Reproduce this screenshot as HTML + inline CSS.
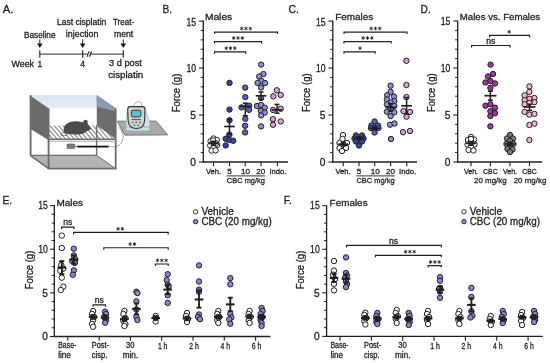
<!DOCTYPE html><html><head><meta charset="utf-8"><style>html,body{margin:0;padding:0;background:#fff;width:550px;height:363px;overflow:hidden}svg{display:block}#wrap{filter:blur(0.35px);width:550px;height:363px}text{font-family:"Liberation Sans",sans-serif;stroke:#231f20;stroke-width:0.3px}</style></head><body>
<div id="wrap"><svg width="550" height="363" viewBox="0 0 550 363">
<rect width="550" height="363" fill="#fff"/>
<text x="2.8" y="13.2" font-size="10.6" text-anchor="start" fill="#231f20" textLength="10.6" lengthAdjust="spacingAndGlyphs">A.</text>
<line x1="39.8" y1="54.1" x2="123.3" y2="54.1" stroke="#555" stroke-width="1.2"/>
<line x1="39.8" y1="50.3" x2="39.8" y2="57.8" stroke="#231f20" stroke-width="1.1"/>
<line x1="82.7" y1="50.3" x2="82.7" y2="57.8" stroke="#231f20" stroke-width="1.1"/>
<line x1="123.3" y1="50.3" x2="123.3" y2="57.8" stroke="#231f20" stroke-width="1.1"/>
<path d="M87.2,56.6 L89.0,51.6 M89.6,56.6 L91.4,51.6" stroke="#231f20" stroke-width="0.9" fill="none"/>
<rect x="87.8" y="53.2" width="2.6" height="1.8" fill="#fff"/>
<path d="M87.2,56.6 L89.0,51.6 M89.6,56.6 L91.4,51.6" stroke="#231f20" stroke-width="0.9" fill="none"/>
<line x1="39.8" y1="39.4" x2="39.8" y2="44.5" stroke="#231f20" stroke-width="1.0"/>
<path d="M36.9,43.4 L42.699999999999996,43.4 L39.8,47.9 Z" fill="#231f20"/>
<line x1="82.7" y1="39.4" x2="82.7" y2="44.5" stroke="#231f20" stroke-width="1.0"/>
<path d="M79.8,43.4 L85.60000000000001,43.4 L82.7,47.9 Z" fill="#231f20"/>
<line x1="123.3" y1="39.4" x2="123.3" y2="44.5" stroke="#231f20" stroke-width="1.0"/>
<path d="M120.39999999999999,43.4 L126.2,43.4 L123.3,47.9 Z" fill="#231f20"/>
<text x="24.0" y="37.6" font-size="8.6" text-anchor="start" fill="#231f20" textLength="31.5" lengthAdjust="spacingAndGlyphs">Baseline</text>
<text x="56.9" y="25.3" font-size="8.6" text-anchor="start" fill="#231f20" textLength="49.4" lengthAdjust="spacingAndGlyphs">Last cisplatin</text>
<text x="65.8" y="36.6" font-size="8.6" text-anchor="start" fill="#231f20" textLength="32.7" lengthAdjust="spacingAndGlyphs">injection</text>
<text x="113.0" y="25.3" font-size="8.6" text-anchor="start" fill="#231f20" textLength="21.2" lengthAdjust="spacingAndGlyphs">Treat-</text>
<text x="114.0" y="36.6" font-size="8.6" text-anchor="start" fill="#231f20" textLength="19.2" lengthAdjust="spacingAndGlyphs">ment</text>
<text x="11.6" y="66.7" font-size="8.6" text-anchor="start" fill="#231f20" textLength="22.4" lengthAdjust="spacingAndGlyphs">Week</text>
<text x="37.6" y="66.7" font-size="8.6" text-anchor="start" fill="#231f20">1</text>
<text x="80.2" y="66.7" font-size="8.6" text-anchor="start" fill="#231f20">4</text>
<text x="109.0" y="66.0" font-size="8.6" text-anchor="start" fill="#231f20" textLength="32.9" lengthAdjust="spacingAndGlyphs">3 d post</text>
<text x="108.2" y="77.5" font-size="8.6" text-anchor="start" fill="#231f20" textLength="35.0" lengthAdjust="spacingAndGlyphs">cisplatin</text>
<defs><linearGradient id="lb" x1="0" y1="0" x2="0" y2="1"><stop offset="0" stop-color="#d6e4f1"/><stop offset="1" stop-color="#e6eef7"/></linearGradient><linearGradient id="rp" x1="0" y1="0" x2="0" y2="1"><stop offset="0" stop-color="#8497a6"/><stop offset="0.3" stop-color="#8497a6"/><stop offset="0.31" stop-color="#6c6c6c"/><stop offset="1" stop-color="#6c6c6c"/></linearGradient><clipPath id="gclip"><polygon points="48.6,125.4 101,125.4 115.7,139 48.6,139"/></clipPath><clipPath id="devclip"><path d="M129.5,106.8 L142.5,106.8 Q144.2,106.8 144.2,109 L143.6,124 Q143.2,128.6 138,128.6 L134,128.6 Q128.8,128.6 128.4,124 L127.8,109 Q127.8,106.8 129.5,106.8 Z"/></clipPath></defs>
<polygon points="30.6,95.2 96.8,95.2 115.7,108.3 48.6,108.3" fill="url(#lb)"/>
<polygon points="30.6,155.4 96.4,155.4 115.7,168.6 48.6,168.6" fill="#b4b4b4"/>
<g clip-path="url(#gclip)"><rect x="48" y="124" width="70" height="16" fill="#ffffff"/><line x1="14.20" y1="124" x2="27.70" y2="140" stroke="#939393" stroke-width="1.25"/><line x1="18.50" y1="124" x2="32.00" y2="140" stroke="#939393" stroke-width="1.25"/><line x1="22.80" y1="124" x2="36.30" y2="140" stroke="#939393" stroke-width="1.25"/><line x1="27.10" y1="124" x2="40.60" y2="140" stroke="#939393" stroke-width="1.25"/><line x1="31.40" y1="124" x2="44.90" y2="140" stroke="#939393" stroke-width="1.25"/><line x1="35.70" y1="124" x2="49.20" y2="140" stroke="#939393" stroke-width="1.25"/><line x1="40.00" y1="124" x2="53.50" y2="140" stroke="#939393" stroke-width="1.25"/><line x1="44.30" y1="124" x2="57.80" y2="140" stroke="#939393" stroke-width="1.25"/><line x1="48.60" y1="124" x2="62.10" y2="140" stroke="#939393" stroke-width="1.25"/><line x1="52.90" y1="124" x2="66.40" y2="140" stroke="#939393" stroke-width="1.25"/><line x1="57.20" y1="124" x2="70.70" y2="140" stroke="#939393" stroke-width="1.25"/><line x1="61.50" y1="124" x2="75.00" y2="140" stroke="#939393" stroke-width="1.25"/><line x1="65.80" y1="124" x2="79.30" y2="140" stroke="#939393" stroke-width="1.25"/><line x1="70.10" y1="124" x2="83.60" y2="140" stroke="#939393" stroke-width="1.25"/><line x1="74.40" y1="124" x2="87.90" y2="140" stroke="#939393" stroke-width="1.25"/><line x1="78.70" y1="124" x2="92.20" y2="140" stroke="#939393" stroke-width="1.25"/><line x1="83.00" y1="124" x2="96.50" y2="140" stroke="#939393" stroke-width="1.25"/><line x1="87.30" y1="124" x2="100.80" y2="140" stroke="#939393" stroke-width="1.25"/><line x1="91.60" y1="124" x2="105.10" y2="140" stroke="#939393" stroke-width="1.25"/><line x1="95.90" y1="124" x2="109.40" y2="140" stroke="#939393" stroke-width="1.25"/><line x1="100.20" y1="124" x2="113.70" y2="140" stroke="#939393" stroke-width="1.25"/><line x1="104.50" y1="124" x2="118.00" y2="140" stroke="#939393" stroke-width="1.25"/><line x1="108.80" y1="124" x2="122.30" y2="140" stroke="#939393" stroke-width="1.25"/><line x1="113.10" y1="124" x2="126.60" y2="140" stroke="#939393" stroke-width="1.25"/><line x1="117.40" y1="124" x2="130.90" y2="140" stroke="#939393" stroke-width="1.25"/><line x1="121.70" y1="124" x2="135.20" y2="140" stroke="#939393" stroke-width="1.25"/><line x1="126.00" y1="124" x2="139.50" y2="140" stroke="#939393" stroke-width="1.25"/><line x1="130.30" y1="124" x2="143.80" y2="140" stroke="#939393" stroke-width="1.25"/><line x1="134.60" y1="124" x2="148.10" y2="140" stroke="#939393" stroke-width="1.25"/><line x1="138.90" y1="124" x2="152.40" y2="140" stroke="#939393" stroke-width="1.25"/><line x1="143.20" y1="124" x2="156.70" y2="140" stroke="#939393" stroke-width="1.25"/><line x1="147.50" y1="124" x2="161.00" y2="140" stroke="#939393" stroke-width="1.25"/></g>
<polygon points="29.8,95.2 48.6,108.3 48.6,139.2 30.6,128.2" fill="#6a6a6a"/>
<polygon points="96.8,95.2 115.7,108.3 115.7,139 96.8,125.2" fill="#6c6c6c"/>
<polygon points="96.8,95.2 115.7,108.3 115.7,111.5 96.8,106.8" fill="#8a9bab"/>
<line x1="30.6" y1="95.2" x2="30.6" y2="155.8" stroke="#6e6e6e" stroke-width="1.9"/>
<line x1="48.6" y1="108.4" x2="48.6" y2="168.8" stroke="#6e6e6e" stroke-width="1.9"/>
<line x1="115.7" y1="108.3" x2="115.7" y2="168.8" stroke="#6e6e6e" stroke-width="1.8"/>
<line x1="96.6" y1="125.2" x2="96.6" y2="155.6" stroke="#6e6e6e" stroke-width="1.4"/>
<line x1="30.6" y1="155.6" x2="48.6" y2="168.6" stroke="#6e6e6e" stroke-width="1.7"/>
<line x1="48" y1="168.6" x2="116.5" y2="168.6" stroke="#6e6e6e" stroke-width="1.9"/>
<line x1="30.6" y1="155.4" x2="96.6" y2="155.4" stroke="#6e6e6e" stroke-width="1.2"/>
<line x1="96.6" y1="155.4" x2="115.7" y2="168.6" stroke="#6e6e6e" stroke-width="1.0"/>
<line x1="48.6" y1="139.3" x2="115.7" y2="139.3" stroke="#6e6e6e" stroke-width="1.4"/>
<line x1="30.6" y1="128.2" x2="48.6" y2="139.3" stroke="#6e6e6e" stroke-width="1.4"/>
<line x1="48.6" y1="141.2" x2="115.7" y2="141.2" stroke="#6e6e6e" stroke-width="0.6"/>
<path d="M65.2,133.2 C63.2,131.5 63,127.5 65.5,124.8 C68,122.2 72.5,121.2 76.5,121.3 C79.5,121.4 81.6,121.9 83,122.6 C83.2,120.8 84.6,119.6 86,119.8 C87.6,120.1 88.2,121.8 87.6,123.4 C88.8,124.9 89.8,126.8 90.8,128.6 C91.1,129.3 90.4,129.8 89.6,130 C88,130.4 86.6,131.4 85,132.6 C83.5,133.6 81.5,134.2 79.5,134.4 C77,134.6 73.5,134.3 71.2,134.2 C69,134.1 66.8,134 65.2,133.2 Z" fill="#4a4b4d"/>
<path d="M82.8,122.8 C82.2,125 82.4,127.6 83.6,129.6" fill="none" stroke="#343436" stroke-width="0.6"/>
<path d="M85.2,121.4 C86,121.2 86.8,121.8 86.8,122.8" fill="none" stroke="#6a5a5a" stroke-width="0.5"/>
<path d="M65,132.4 C61.8,132.6 60.2,134 60.9,135 C61.8,135.8 64.5,135.6 67.6,135.1" fill="none" stroke="#7b4b42" stroke-width="0.7"/>
<line x1="70.8" y1="139.6" x2="70.8" y2="144" stroke="#aaaaaa" stroke-width="0.6"/>
<rect x="67" y="144" width="7.6" height="4.6" fill="#7a7a7a" stroke="#555" stroke-width="0.5"/>
<line x1="74.6" y1="146.4" x2="77.5" y2="146.4" stroke="#444" stroke-width="0.9"/>
<line x1="77.5" y1="146.6" x2="108.6" y2="146.6" stroke="#111" stroke-width="1.8"/>
<line x1="108.6" y1="146.6" x2="115.7" y2="146.6" stroke="#777" stroke-width="0.5"/>
<path d="M115.5,146.6 C121,145.6 123.6,140.5 123.1,135.6 C122.6,131.6 120.6,128.6 118.2,126.6" fill="none" stroke="#666" stroke-width="0.6"/>
<polygon points="117.2,121.2 156.2,121.1 167.7,134.9 125,135.2" fill="#a9a9a9" stroke="#666" stroke-width="0.8"/>
<polygon points="126.2,113 129.5,112.5 129.5,130 126.2,130" fill="#d3e6ee" stroke="#8fb0bd" stroke-width="0.5"/>
<polygon points="143.2,108.6 145.2,108.2 150,124.2 149.2,127.2 144.2,127.2" fill="#cfe3ec" stroke="#8fb0bd" stroke-width="0.5"/>
<polygon points="125.8,127.2 149.4,127.2 149.4,130.8 125.8,130.8" fill="#c9dfe8" stroke="#8fb0bd" stroke-width="0.5"/>
<path d="M133.2,107.2 C133.8,104 135.8,102 138.6,101.6 C140.6,101.4 141.4,102.6 141.4,104.4 L141.2,107.4" fill="none" stroke="#8a8a8a" stroke-width="0.7"/>
<path d="M130.2,106.6 L142.6,106.6 Q145,106.6 145,109.4 L144.6,120.5 Q144,128.4 136.4,128.5 Q128.6,128.4 128.1,120.5 L127.7,109.4 Q127.7,106.6 130.2,106.6 Z" fill="#d2d2d2" stroke="#333" stroke-width="1.1"/>
<rect x="131.3" y="110.2" width="9.6" height="6.7" rx="1.6" fill="#56c2d5" stroke="#2a2a2a" stroke-width="0.9"/>
<path d="M131.4,119.6 L141,119.6" stroke="#555" stroke-width="1.0"/>
<circle cx="132.6" cy="122.4" r="1.0" fill="#777"/><circle cx="136.3" cy="122.2" r="1.0" fill="#777"/><circle cx="140" cy="122.4" r="1.0" fill="#777"/>
<circle cx="134.4" cy="125.2" r="0.95" fill="#777"/><circle cx="138.2" cy="125.2" r="0.95" fill="#777"/>
<text x="162.4" y="13.2" font-size="10.4" text-anchor="start" fill="#231f20" textLength="9.6" lengthAdjust="spacingAndGlyphs">B.</text>
<line x1="203.3" y1="20.6" x2="203.3" y2="162.6" stroke="#231f20" stroke-width="1.3"/>
<line x1="199.0" y1="162.0" x2="203.3" y2="162.0" stroke="#231f20" stroke-width="1.1"/>
<line x1="200.70000000000002" y1="152.60666666666665" x2="203.3" y2="152.60666666666665" stroke="#231f20" stroke-width="1.0"/>
<line x1="200.70000000000002" y1="143.21333333333334" x2="203.3" y2="143.21333333333334" stroke="#231f20" stroke-width="1.0"/>
<line x1="200.70000000000002" y1="133.82" x2="203.3" y2="133.82" stroke="#231f20" stroke-width="1.0"/>
<line x1="200.70000000000002" y1="124.42666666666666" x2="203.3" y2="124.42666666666666" stroke="#231f20" stroke-width="1.0"/>
<line x1="199.0" y1="115.03333333333333" x2="203.3" y2="115.03333333333333" stroke="#231f20" stroke-width="1.1"/>
<line x1="200.70000000000002" y1="105.63999999999999" x2="203.3" y2="105.63999999999999" stroke="#231f20" stroke-width="1.0"/>
<line x1="200.70000000000002" y1="96.24666666666666" x2="203.3" y2="96.24666666666666" stroke="#231f20" stroke-width="1.0"/>
<line x1="200.70000000000002" y1="86.85333333333332" x2="203.3" y2="86.85333333333332" stroke="#231f20" stroke-width="1.0"/>
<line x1="200.70000000000002" y1="77.46" x2="203.3" y2="77.46" stroke="#231f20" stroke-width="1.0"/>
<line x1="199.0" y1="68.06666666666666" x2="203.3" y2="68.06666666666666" stroke="#231f20" stroke-width="1.1"/>
<line x1="200.70000000000002" y1="58.67333333333332" x2="203.3" y2="58.67333333333332" stroke="#231f20" stroke-width="1.0"/>
<line x1="200.70000000000002" y1="49.27999999999999" x2="203.3" y2="49.27999999999999" stroke="#231f20" stroke-width="1.0"/>
<line x1="200.70000000000002" y1="39.886666666666656" x2="203.3" y2="39.886666666666656" stroke="#231f20" stroke-width="1.0"/>
<line x1="200.70000000000002" y1="30.49333333333331" x2="203.3" y2="30.49333333333331" stroke="#231f20" stroke-width="1.0"/>
<line x1="199.0" y1="21.099999999999994" x2="203.3" y2="21.099999999999994" stroke="#231f20" stroke-width="1.1"/>
<text x="196.0" y="166.4" font-size="10.2" text-anchor="end" fill="#231f20">0</text>
<text x="196.0" y="119.43333333333334" font-size="10.2" text-anchor="end" fill="#231f20">5</text>
<text x="196.0" y="72.46666666666667" font-size="10.2" text-anchor="end" fill="#231f20" textLength="9.6" lengthAdjust="spacingAndGlyphs">10</text>
<text x="196.0" y="25.499999999999993" font-size="10.2" text-anchor="end" fill="#231f20" textLength="9.6" lengthAdjust="spacingAndGlyphs">15</text>
<text x="204.9" y="19.9" font-size="9.6" text-anchor="start" fill="#231f20" textLength="27.3" lengthAdjust="spacingAndGlyphs">Males</text>
<line x1="202.70000000000002" y1="162.0" x2="288" y2="162.0" stroke="#231f20" stroke-width="1.3"/>
<line x1="213.5" y1="162.0" x2="213.5" y2="166.3" stroke="#231f20" stroke-width="1.1"/>
<line x1="229.5" y1="162.0" x2="229.5" y2="166.3" stroke="#231f20" stroke-width="1.1"/>
<line x1="245.2" y1="162.0" x2="245.2" y2="166.3" stroke="#231f20" stroke-width="1.1"/>
<line x1="261.0" y1="162.0" x2="261.0" y2="166.3" stroke="#231f20" stroke-width="1.1"/>
<line x1="277.4" y1="162.0" x2="277.4" y2="166.3" stroke="#231f20" stroke-width="1.1"/>
<text x="205.9" y="173.8" font-size="8.1" text-anchor="start" fill="#231f20" textLength="15.2" lengthAdjust="spacingAndGlyphs">Veh.</text>
<text x="229.4" y="173.8" font-size="8.1" text-anchor="middle" fill="#231f20">5</text>
<text x="245.6" y="173.8" font-size="8.1" text-anchor="middle" fill="#231f20">10</text>
<text x="260.8" y="173.8" font-size="8.1" text-anchor="middle" fill="#231f20">20</text>
<text x="269.4" y="173.8" font-size="8.1" text-anchor="start" fill="#231f20" textLength="17.1" lengthAdjust="spacingAndGlyphs">Indo.</text>
<line x1="226.6" y1="175.9" x2="265.2" y2="175.9" stroke="#231f20" stroke-width="0.9"/>
<text x="226.8" y="182.6" font-size="8.1" text-anchor="start" fill="#231f20" textLength="38.2" lengthAdjust="spacingAndGlyphs">CBC mg/kg</text>
<text transform="translate(180.3,112.3) rotate(-90)" font-size="10.0" fill="#231f20" textLength="38.6" lengthAdjust="spacingAndGlyphs">Force (g)</text>
<path d="M214.5,34.1 L214.5,32.1 L277.5,32.1 L277.5,34.1" fill="none" stroke="#231f20" stroke-width="1.15"/>
<path d="M241.70,26.65L241.70,30.35M240.10,27.57L243.30,29.43M243.30,27.57L240.10,29.43" stroke="#231f20" stroke-width="0.85" fill="none"/>
<path d="M246.00,26.65L246.00,30.35M244.40,27.57L247.60,29.43M247.60,27.57L244.40,29.43" stroke="#231f20" stroke-width="0.85" fill="none"/>
<path d="M250.30,26.65L250.30,30.35M248.70,27.57L251.90,29.43M251.90,27.57L248.70,29.43" stroke="#231f20" stroke-width="0.85" fill="none"/>
<path d="M214.5,43.6 L214.5,41.6 L261.6,41.6 L261.6,43.6" fill="none" stroke="#231f20" stroke-width="1.15"/>
<path d="M233.70,36.15L233.70,39.85M232.10,37.08L235.30,38.92M235.30,37.08L232.10,38.92" stroke="#231f20" stroke-width="0.85" fill="none"/>
<path d="M238.00,36.15L238.00,39.85M236.40,37.08L239.60,38.92M239.60,37.08L236.40,38.92" stroke="#231f20" stroke-width="0.85" fill="none"/>
<path d="M242.30,36.15L242.30,39.85M240.70,37.08L243.90,38.92M243.90,37.08L240.70,38.92" stroke="#231f20" stroke-width="0.85" fill="none"/>
<path d="M214.5,53.8 L214.5,51.8 L245.7,51.8 L245.7,53.8" fill="none" stroke="#231f20" stroke-width="1.15"/>
<path d="M226.20,46.35L226.20,50.05M224.60,47.27L227.80,49.12M227.80,47.27L224.60,49.12" stroke="#231f20" stroke-width="0.85" fill="none"/>
<path d="M230.50,46.35L230.50,50.05M228.90,47.27L232.10,49.12M232.10,47.27L228.90,49.12" stroke="#231f20" stroke-width="0.85" fill="none"/>
<path d="M234.80,46.35L234.80,50.05M233.20,47.27L236.40,49.12M236.40,47.27L233.20,49.12" stroke="#231f20" stroke-width="0.85" fill="none"/>
<circle cx="213.50" cy="138.50" r="2.7" fill="#ffffff" stroke="#231f20" stroke-width="1.0"/>
<circle cx="216.80" cy="140.00" r="2.7" fill="#ffffff" stroke="#231f20" stroke-width="1.0"/>
<circle cx="210.60" cy="141.20" r="2.7" fill="#ffffff" stroke="#231f20" stroke-width="1.0"/>
<circle cx="214.00" cy="142.50" r="2.7" fill="#ffffff" stroke="#231f20" stroke-width="1.0"/>
<circle cx="217.20" cy="145.00" r="2.7" fill="#ffffff" stroke="#231f20" stroke-width="1.0"/>
<circle cx="210.20" cy="145.50" r="2.7" fill="#ffffff" stroke="#231f20" stroke-width="1.0"/>
<circle cx="213.60" cy="147.50" r="2.7" fill="#ffffff" stroke="#231f20" stroke-width="1.0"/>
<circle cx="211.60" cy="150.60" r="2.7" fill="#ffffff" stroke="#231f20" stroke-width="1.0"/>
<circle cx="215.60" cy="150.40" r="2.7" fill="#ffffff" stroke="#231f20" stroke-width="1.0"/>
<circle cx="213.20" cy="140.50" r="2.7" fill="#ffffff" stroke="#231f20" stroke-width="1.0"/>
<circle cx="216.00" cy="143.50" r="2.7" fill="#ffffff" stroke="#231f20" stroke-width="1.0"/>
<line x1="208.9" y1="143.3" x2="218.1" y2="143.3" stroke="#231f20" stroke-width="2.1"/>
<line x1="213.5" y1="141.5" x2="213.5" y2="145.2" stroke="#231f20" stroke-width="1.8900000000000001"/>
<line x1="211.0" y1="141.5" x2="216.0" y2="141.5" stroke="#231f20" stroke-width="1.8900000000000001"/>
<line x1="211.0" y1="145.2" x2="216.0" y2="145.2" stroke="#231f20" stroke-width="1.8900000000000001"/>
<circle cx="229.50" cy="82.90" r="2.7" fill="#3343a8" stroke="#231f20" stroke-width="1.0"/>
<circle cx="229.50" cy="109.60" r="2.7" fill="#3343a8" stroke="#231f20" stroke-width="1.0"/>
<circle cx="229.50" cy="120.30" r="2.7" fill="#3343a8" stroke="#231f20" stroke-width="1.0"/>
<circle cx="229.40" cy="134.60" r="2.7" fill="#3343a8" stroke="#231f20" stroke-width="1.0"/>
<circle cx="225.70" cy="138.70" r="2.7" fill="#3343a8" stroke="#231f20" stroke-width="1.0"/>
<circle cx="229.40" cy="140.00" r="2.7" fill="#3343a8" stroke="#231f20" stroke-width="1.0"/>
<circle cx="233.20" cy="140.80" r="2.7" fill="#3343a8" stroke="#231f20" stroke-width="1.0"/>
<circle cx="225.70" cy="145.40" r="2.7" fill="#3343a8" stroke="#231f20" stroke-width="1.0"/>
<line x1="224.2" y1="126.5" x2="234.8" y2="126.5" stroke="#231f20" stroke-width="1.7"/>
<line x1="229.5" y1="119.3" x2="229.5" y2="134.2" stroke="#231f20" stroke-width="1.53"/>
<line x1="227.0" y1="119.3" x2="232.0" y2="119.3" stroke="#231f20" stroke-width="1.53"/>
<line x1="227.0" y1="134.2" x2="232.0" y2="134.2" stroke="#231f20" stroke-width="1.53"/>
<circle cx="245.20" cy="87.60" r="2.7" fill="#5363c2" stroke="#231f20" stroke-width="1.0"/>
<circle cx="245.30" cy="97.10" r="2.7" fill="#5363c2" stroke="#231f20" stroke-width="1.0"/>
<circle cx="241.60" cy="107.40" r="2.7" fill="#5363c2" stroke="#231f20" stroke-width="1.0"/>
<circle cx="249.10" cy="105.70" r="2.7" fill="#5363c2" stroke="#231f20" stroke-width="1.0"/>
<circle cx="249.10" cy="109.80" r="2.7" fill="#5363c2" stroke="#231f20" stroke-width="1.0"/>
<circle cx="245.30" cy="118.80" r="2.7" fill="#5363c2" stroke="#231f20" stroke-width="1.0"/>
<circle cx="245.10" cy="125.80" r="2.7" fill="#5363c2" stroke="#231f20" stroke-width="1.0"/>
<circle cx="245.10" cy="132.40" r="2.7" fill="#5363c2" stroke="#231f20" stroke-width="1.0"/>
<line x1="240.0" y1="106.4" x2="250.60000000000002" y2="106.4" stroke="#231f20" stroke-width="1.7"/>
<line x1="245.3" y1="103.2" x2="245.3" y2="115.7" stroke="#231f20" stroke-width="1.53"/>
<line x1="242.8" y1="103.2" x2="247.8" y2="103.2" stroke="#231f20" stroke-width="1.53"/>
<line x1="242.8" y1="115.7" x2="247.8" y2="115.7" stroke="#231f20" stroke-width="1.53"/>
<circle cx="261.10" cy="64.60" r="2.7" fill="#8b8edb" stroke="#231f20" stroke-width="1.0"/>
<circle cx="263.40" cy="74.00" r="2.7" fill="#8b8edb" stroke="#231f20" stroke-width="1.0"/>
<circle cx="259.20" cy="76.50" r="2.7" fill="#8b8edb" stroke="#231f20" stroke-width="1.0"/>
<circle cx="261.40" cy="80.90" r="2.7" fill="#8b8edb" stroke="#231f20" stroke-width="1.0"/>
<circle cx="257.60" cy="82.90" r="2.7" fill="#8b8edb" stroke="#231f20" stroke-width="1.0"/>
<circle cx="265.00" cy="83.10" r="2.7" fill="#8b8edb" stroke="#231f20" stroke-width="1.0"/>
<circle cx="261.10" cy="87.50" r="2.7" fill="#8b8edb" stroke="#231f20" stroke-width="1.0"/>
<circle cx="257.00" cy="106.00" r="2.7" fill="#8b8edb" stroke="#231f20" stroke-width="1.0"/>
<circle cx="261.10" cy="104.90" r="2.7" fill="#8b8edb" stroke="#231f20" stroke-width="1.0"/>
<circle cx="264.70" cy="107.70" r="2.7" fill="#8b8edb" stroke="#231f20" stroke-width="1.0"/>
<circle cx="260.90" cy="111.00" r="2.7" fill="#8b8edb" stroke="#231f20" stroke-width="1.0"/>
<circle cx="264.70" cy="112.60" r="2.7" fill="#8b8edb" stroke="#231f20" stroke-width="1.0"/>
<circle cx="261.10" cy="115.40" r="2.7" fill="#8b8edb" stroke="#231f20" stroke-width="1.0"/>
<circle cx="261.10" cy="126.40" r="2.7" fill="#8b8edb" stroke="#231f20" stroke-width="1.0"/>
<circle cx="261.10" cy="98.00" r="2.7" fill="#8b8edb" stroke="#231f20" stroke-width="1.0"/>
<line x1="255.7" y1="95.8" x2="266.3" y2="95.8" stroke="#231f20" stroke-width="1.7"/>
<line x1="261.0" y1="92.0" x2="261.0" y2="99.4" stroke="#231f20" stroke-width="1.53"/>
<line x1="258.5" y1="92.0" x2="263.5" y2="92.0" stroke="#231f20" stroke-width="1.53"/>
<line x1="258.5" y1="99.4" x2="263.5" y2="99.4" stroke="#231f20" stroke-width="1.53"/>
<circle cx="276.90" cy="90.30" r="2.7" fill="#d9a1d9" stroke="#231f20" stroke-width="1.0"/>
<circle cx="280.70" cy="95.00" r="2.7" fill="#d9a1d9" stroke="#231f20" stroke-width="1.0"/>
<circle cx="273.30" cy="96.30" r="2.7" fill="#d9a1d9" stroke="#231f20" stroke-width="1.0"/>
<circle cx="273.00" cy="109.90" r="2.7" fill="#d9a1d9" stroke="#231f20" stroke-width="1.0"/>
<circle cx="280.70" cy="108.80" r="2.7" fill="#d9a1d9" stroke="#231f20" stroke-width="1.0"/>
<circle cx="273.00" cy="119.20" r="2.7" fill="#d9a1d9" stroke="#231f20" stroke-width="1.0"/>
<circle cx="280.70" cy="121.40" r="2.7" fill="#d9a1d9" stroke="#231f20" stroke-width="1.0"/>
<circle cx="273.00" cy="124.70" r="2.7" fill="#d9a1d9" stroke="#231f20" stroke-width="1.0"/>
<line x1="271.7" y1="109.9" x2="282.3" y2="109.9" stroke="#231f20" stroke-width="1.7"/>
<line x1="277.0" y1="104.4" x2="277.0" y2="113.2" stroke="#231f20" stroke-width="1.53"/>
<line x1="274.5" y1="104.4" x2="279.5" y2="104.4" stroke="#231f20" stroke-width="1.53"/>
<line x1="274.5" y1="113.2" x2="279.5" y2="113.2" stroke="#231f20" stroke-width="1.53"/>
<text x="288.5" y="13.2" font-size="10.4" text-anchor="start" fill="#231f20" textLength="10.4" lengthAdjust="spacingAndGlyphs">C.</text>
<line x1="332.8" y1="20.6" x2="332.8" y2="162.6" stroke="#231f20" stroke-width="1.3"/>
<line x1="328.5" y1="162.0" x2="332.8" y2="162.0" stroke="#231f20" stroke-width="1.1"/>
<line x1="330.2" y1="152.60666666666665" x2="332.8" y2="152.60666666666665" stroke="#231f20" stroke-width="1.0"/>
<line x1="330.2" y1="143.21333333333334" x2="332.8" y2="143.21333333333334" stroke="#231f20" stroke-width="1.0"/>
<line x1="330.2" y1="133.82" x2="332.8" y2="133.82" stroke="#231f20" stroke-width="1.0"/>
<line x1="330.2" y1="124.42666666666666" x2="332.8" y2="124.42666666666666" stroke="#231f20" stroke-width="1.0"/>
<line x1="328.5" y1="115.03333333333333" x2="332.8" y2="115.03333333333333" stroke="#231f20" stroke-width="1.1"/>
<line x1="330.2" y1="105.63999999999999" x2="332.8" y2="105.63999999999999" stroke="#231f20" stroke-width="1.0"/>
<line x1="330.2" y1="96.24666666666666" x2="332.8" y2="96.24666666666666" stroke="#231f20" stroke-width="1.0"/>
<line x1="330.2" y1="86.85333333333332" x2="332.8" y2="86.85333333333332" stroke="#231f20" stroke-width="1.0"/>
<line x1="330.2" y1="77.46" x2="332.8" y2="77.46" stroke="#231f20" stroke-width="1.0"/>
<line x1="328.5" y1="68.06666666666666" x2="332.8" y2="68.06666666666666" stroke="#231f20" stroke-width="1.1"/>
<line x1="330.2" y1="58.67333333333332" x2="332.8" y2="58.67333333333332" stroke="#231f20" stroke-width="1.0"/>
<line x1="330.2" y1="49.27999999999999" x2="332.8" y2="49.27999999999999" stroke="#231f20" stroke-width="1.0"/>
<line x1="330.2" y1="39.886666666666656" x2="332.8" y2="39.886666666666656" stroke="#231f20" stroke-width="1.0"/>
<line x1="330.2" y1="30.49333333333331" x2="332.8" y2="30.49333333333331" stroke="#231f20" stroke-width="1.0"/>
<line x1="328.5" y1="21.099999999999994" x2="332.8" y2="21.099999999999994" stroke="#231f20" stroke-width="1.1"/>
<text x="325.5" y="166.4" font-size="10.2" text-anchor="end" fill="#231f20">0</text>
<text x="325.5" y="119.43333333333334" font-size="10.2" text-anchor="end" fill="#231f20">5</text>
<text x="325.5" y="72.46666666666667" font-size="10.2" text-anchor="end" fill="#231f20" textLength="9.6" lengthAdjust="spacingAndGlyphs">10</text>
<text x="325.5" y="25.499999999999993" font-size="10.2" text-anchor="end" fill="#231f20" textLength="9.6" lengthAdjust="spacingAndGlyphs">15</text>
<text x="335.3" y="19.9" font-size="9.6" text-anchor="start" fill="#231f20" textLength="38.0" lengthAdjust="spacingAndGlyphs">Females</text>
<line x1="332.2" y1="162.0" x2="417" y2="162.0" stroke="#231f20" stroke-width="1.3"/>
<line x1="343.2" y1="162.0" x2="343.2" y2="166.3" stroke="#231f20" stroke-width="1.1"/>
<line x1="359.0" y1="162.0" x2="359.0" y2="166.3" stroke="#231f20" stroke-width="1.1"/>
<line x1="374.7" y1="162.0" x2="374.7" y2="166.3" stroke="#231f20" stroke-width="1.1"/>
<line x1="390.6" y1="162.0" x2="390.6" y2="166.3" stroke="#231f20" stroke-width="1.1"/>
<line x1="406.8" y1="162.0" x2="406.8" y2="166.3" stroke="#231f20" stroke-width="1.1"/>
<text x="335.4" y="173.8" font-size="8.1" text-anchor="start" fill="#231f20" textLength="15.2" lengthAdjust="spacingAndGlyphs">Veh.</text>
<text x="359.0" y="173.8" font-size="8.1" text-anchor="middle" fill="#231f20">5</text>
<text x="375.2" y="173.8" font-size="8.1" text-anchor="middle" fill="#231f20">10</text>
<text x="390.4" y="173.8" font-size="8.1" text-anchor="middle" fill="#231f20">20</text>
<text x="399.0" y="173.8" font-size="8.1" text-anchor="start" fill="#231f20" textLength="17.1" lengthAdjust="spacingAndGlyphs">Indo.</text>
<line x1="356.2" y1="175.9" x2="394.8" y2="175.9" stroke="#231f20" stroke-width="0.9"/>
<text x="356.4" y="182.6" font-size="8.1" text-anchor="start" fill="#231f20" textLength="38.2" lengthAdjust="spacingAndGlyphs">CBC mg/kg</text>
<text transform="translate(309.8,112.0) rotate(-90)" font-size="10.0" fill="#231f20" textLength="38.6" lengthAdjust="spacingAndGlyphs">Force (g)</text>
<path d="M344.0,34.1 L344.0,32.1 L407.0,32.1 L407.0,34.1" fill="none" stroke="#231f20" stroke-width="1.15"/>
<path d="M371.20,26.65L371.20,30.35M369.60,27.57L372.80,29.43M372.80,27.57L369.60,29.43" stroke="#231f20" stroke-width="0.85" fill="none"/>
<path d="M375.50,26.65L375.50,30.35M373.90,27.57L377.10,29.43M377.10,27.57L373.90,29.43" stroke="#231f20" stroke-width="0.85" fill="none"/>
<path d="M379.80,26.65L379.80,30.35M378.20,27.57L381.40,29.43M381.40,27.57L378.20,29.43" stroke="#231f20" stroke-width="0.85" fill="none"/>
<path d="M344.0,43.6 L344.0,41.6 L391.1,41.6 L391.1,43.6" fill="none" stroke="#231f20" stroke-width="1.15"/>
<path d="M363.20,36.15L363.20,39.85M361.60,37.08L364.80,38.92M364.80,37.08L361.60,38.92" stroke="#231f20" stroke-width="0.85" fill="none"/>
<path d="M367.50,36.15L367.50,39.85M365.90,37.08L369.10,38.92M369.10,37.08L365.90,38.92" stroke="#231f20" stroke-width="0.85" fill="none"/>
<path d="M371.80,36.15L371.80,39.85M370.20,37.08L373.40,38.92M373.40,37.08L370.20,38.92" stroke="#231f20" stroke-width="0.85" fill="none"/>
<path d="M344.0,53.8 L344.0,51.8 L375.2,51.8 L375.2,53.8" fill="none" stroke="#231f20" stroke-width="1.15"/>
<path d="M360.00,46.35L360.00,50.05M358.40,47.27L361.60,49.12M361.60,47.27L358.40,49.12" stroke="#231f20" stroke-width="0.85" fill="none"/>
<circle cx="343.00" cy="135.00" r="2.7" fill="#ffffff" stroke="#231f20" stroke-width="1.0"/>
<circle cx="342.50" cy="139.00" r="2.7" fill="#ffffff" stroke="#231f20" stroke-width="1.0"/>
<circle cx="339.50" cy="143.00" r="2.7" fill="#ffffff" stroke="#231f20" stroke-width="1.0"/>
<circle cx="347.00" cy="143.00" r="2.7" fill="#ffffff" stroke="#231f20" stroke-width="1.0"/>
<circle cx="343.00" cy="145.50" r="2.7" fill="#ffffff" stroke="#231f20" stroke-width="1.0"/>
<circle cx="339.50" cy="148.00" r="2.7" fill="#ffffff" stroke="#231f20" stroke-width="1.0"/>
<circle cx="346.00" cy="148.00" r="2.7" fill="#ffffff" stroke="#231f20" stroke-width="1.0"/>
<circle cx="342.00" cy="151.00" r="2.7" fill="#ffffff" stroke="#231f20" stroke-width="1.0"/>
<line x1="338.2" y1="144.2" x2="348.2" y2="144.2" stroke="#231f20" stroke-width="1.7"/>
<line x1="343.2" y1="142.4" x2="343.2" y2="146.0" stroke="#231f20" stroke-width="1.53"/>
<line x1="340.7" y1="142.4" x2="345.7" y2="142.4" stroke="#231f20" stroke-width="1.53"/>
<line x1="340.7" y1="146.0" x2="345.7" y2="146.0" stroke="#231f20" stroke-width="1.53"/>
<circle cx="356.00" cy="135.50" r="2.7" fill="#3343a8" stroke="#231f20" stroke-width="1.0"/>
<circle cx="362.00" cy="135.50" r="2.7" fill="#3343a8" stroke="#231f20" stroke-width="1.0"/>
<circle cx="354.50" cy="138.50" r="2.7" fill="#3343a8" stroke="#231f20" stroke-width="1.0"/>
<circle cx="363.50" cy="138.50" r="2.7" fill="#3343a8" stroke="#231f20" stroke-width="1.0"/>
<circle cx="359.00" cy="139.50" r="2.7" fill="#3343a8" stroke="#231f20" stroke-width="1.0"/>
<circle cx="356.00" cy="141.50" r="2.7" fill="#3343a8" stroke="#231f20" stroke-width="1.0"/>
<circle cx="362.00" cy="141.50" r="2.7" fill="#3343a8" stroke="#231f20" stroke-width="1.0"/>
<circle cx="359.00" cy="145.50" r="2.7" fill="#3343a8" stroke="#231f20" stroke-width="1.0"/>
<line x1="353.7" y1="138.1" x2="364.3" y2="138.1" stroke="#231f20" stroke-width="1.7"/>
<line x1="359.0" y1="136.8" x2="359.0" y2="139.5" stroke="#231f20" stroke-width="1.53"/>
<line x1="356.5" y1="136.8" x2="361.5" y2="136.8" stroke="#231f20" stroke-width="1.53"/>
<line x1="356.5" y1="139.5" x2="361.5" y2="139.5" stroke="#231f20" stroke-width="1.53"/>
<circle cx="374.60" cy="121.50" r="2.7" fill="#5363c2" stroke="#231f20" stroke-width="1.0"/>
<circle cx="371.50" cy="125.50" r="2.7" fill="#5363c2" stroke="#231f20" stroke-width="1.0"/>
<circle cx="378.00" cy="125.50" r="2.7" fill="#5363c2" stroke="#231f20" stroke-width="1.0"/>
<circle cx="371.00" cy="128.00" r="2.7" fill="#5363c2" stroke="#231f20" stroke-width="1.0"/>
<circle cx="378.50" cy="128.00" r="2.7" fill="#5363c2" stroke="#231f20" stroke-width="1.0"/>
<circle cx="374.60" cy="128.50" r="2.7" fill="#5363c2" stroke="#231f20" stroke-width="1.0"/>
<circle cx="374.60" cy="132.50" r="2.7" fill="#5363c2" stroke="#231f20" stroke-width="1.0"/>
<line x1="369.4" y1="128.2" x2="380.0" y2="128.2" stroke="#231f20" stroke-width="1.7"/>
<line x1="374.7" y1="126.8" x2="374.7" y2="129.6" stroke="#231f20" stroke-width="1.53"/>
<line x1="372.2" y1="126.8" x2="377.2" y2="126.8" stroke="#231f20" stroke-width="1.53"/>
<line x1="372.2" y1="129.6" x2="377.2" y2="129.6" stroke="#231f20" stroke-width="1.53"/>
<circle cx="390.60" cy="85.70" r="2.7" fill="#8b8edb" stroke="#231f20" stroke-width="1.0"/>
<circle cx="390.60" cy="91.90" r="2.7" fill="#8b8edb" stroke="#231f20" stroke-width="1.0"/>
<circle cx="387.20" cy="95.20" r="2.7" fill="#8b8edb" stroke="#231f20" stroke-width="1.0"/>
<circle cx="394.00" cy="96.60" r="2.7" fill="#8b8edb" stroke="#231f20" stroke-width="1.0"/>
<circle cx="386.90" cy="99.50" r="2.7" fill="#8b8edb" stroke="#231f20" stroke-width="1.0"/>
<circle cx="394.30" cy="101.00" r="2.7" fill="#8b8edb" stroke="#231f20" stroke-width="1.0"/>
<circle cx="390.60" cy="102.50" r="2.7" fill="#8b8edb" stroke="#231f20" stroke-width="1.0"/>
<circle cx="386.90" cy="104.30" r="2.7" fill="#8b8edb" stroke="#231f20" stroke-width="1.0"/>
<circle cx="394.30" cy="106.00" r="2.7" fill="#8b8edb" stroke="#231f20" stroke-width="1.0"/>
<circle cx="390.60" cy="109.00" r="2.7" fill="#8b8edb" stroke="#231f20" stroke-width="1.0"/>
<circle cx="386.90" cy="111.70" r="2.7" fill="#8b8edb" stroke="#231f20" stroke-width="1.0"/>
<circle cx="394.30" cy="112.30" r="2.7" fill="#8b8edb" stroke="#231f20" stroke-width="1.0"/>
<circle cx="390.60" cy="116.10" r="2.7" fill="#8b8edb" stroke="#231f20" stroke-width="1.0"/>
<circle cx="390.00" cy="124.70" r="2.7" fill="#8b8edb" stroke="#231f20" stroke-width="1.0"/>
<circle cx="394.50" cy="123.50" r="2.7" fill="#8b8edb" stroke="#231f20" stroke-width="1.0"/>
<circle cx="391.00" cy="139.00" r="2.7" fill="#8b8edb" stroke="#231f20" stroke-width="1.0"/>
<line x1="385.3" y1="107.4" x2="395.90000000000003" y2="107.4" stroke="#231f20" stroke-width="1.7"/>
<line x1="390.6" y1="103.7" x2="390.6" y2="111.0" stroke="#231f20" stroke-width="1.53"/>
<line x1="388.1" y1="103.7" x2="393.1" y2="103.7" stroke="#231f20" stroke-width="1.53"/>
<line x1="388.1" y1="111.0" x2="393.1" y2="111.0" stroke="#231f20" stroke-width="1.53"/>
<circle cx="406.40" cy="60.80" r="2.7" fill="#d9a1d9" stroke="#231f20" stroke-width="1.0"/>
<circle cx="406.40" cy="85.00" r="2.7" fill="#d9a1d9" stroke="#231f20" stroke-width="1.0"/>
<circle cx="406.40" cy="97.10" r="2.7" fill="#d9a1d9" stroke="#231f20" stroke-width="1.0"/>
<circle cx="403.50" cy="111.10" r="2.7" fill="#d9a1d9" stroke="#231f20" stroke-width="1.0"/>
<circle cx="410.00" cy="112.00" r="2.7" fill="#d9a1d9" stroke="#231f20" stroke-width="1.0"/>
<circle cx="406.50" cy="116.70" r="2.7" fill="#d9a1d9" stroke="#231f20" stroke-width="1.0"/>
<circle cx="403.00" cy="132.20" r="2.7" fill="#d9a1d9" stroke="#231f20" stroke-width="1.0"/>
<circle cx="410.00" cy="131.00" r="2.7" fill="#d9a1d9" stroke="#231f20" stroke-width="1.0"/>
<line x1="401.3" y1="105.8" x2="411.90000000000003" y2="105.8" stroke="#231f20" stroke-width="1.7"/>
<line x1="406.6" y1="97.5" x2="406.6" y2="114.0" stroke="#231f20" stroke-width="1.53"/>
<line x1="404.1" y1="97.5" x2="409.1" y2="97.5" stroke="#231f20" stroke-width="1.53"/>
<line x1="404.1" y1="114.0" x2="409.1" y2="114.0" stroke="#231f20" stroke-width="1.53"/>
<text x="420.6" y="13.2" font-size="10.4" text-anchor="start" fill="#231f20" textLength="10.2" lengthAdjust="spacingAndGlyphs">D.</text>
<line x1="457.7" y1="20.5" x2="457.7" y2="162.6" stroke="#231f20" stroke-width="1.3"/>
<line x1="453.4" y1="162.0" x2="457.7" y2="162.0" stroke="#231f20" stroke-width="1.1"/>
<line x1="455.09999999999997" y1="152.6" x2="457.7" y2="152.6" stroke="#231f20" stroke-width="1.0"/>
<line x1="455.09999999999997" y1="143.2" x2="457.7" y2="143.2" stroke="#231f20" stroke-width="1.0"/>
<line x1="455.09999999999997" y1="133.8" x2="457.7" y2="133.8" stroke="#231f20" stroke-width="1.0"/>
<line x1="455.09999999999997" y1="124.4" x2="457.7" y2="124.4" stroke="#231f20" stroke-width="1.0"/>
<line x1="453.4" y1="115.0" x2="457.7" y2="115.0" stroke="#231f20" stroke-width="1.1"/>
<line x1="455.09999999999997" y1="105.6" x2="457.7" y2="105.6" stroke="#231f20" stroke-width="1.0"/>
<line x1="455.09999999999997" y1="96.2" x2="457.7" y2="96.2" stroke="#231f20" stroke-width="1.0"/>
<line x1="455.09999999999997" y1="86.8" x2="457.7" y2="86.8" stroke="#231f20" stroke-width="1.0"/>
<line x1="455.09999999999997" y1="77.39999999999999" x2="457.7" y2="77.39999999999999" stroke="#231f20" stroke-width="1.0"/>
<line x1="453.4" y1="68.0" x2="457.7" y2="68.0" stroke="#231f20" stroke-width="1.1"/>
<line x1="455.09999999999997" y1="58.599999999999994" x2="457.7" y2="58.599999999999994" stroke="#231f20" stroke-width="1.0"/>
<line x1="455.09999999999997" y1="49.19999999999999" x2="457.7" y2="49.19999999999999" stroke="#231f20" stroke-width="1.0"/>
<line x1="455.09999999999997" y1="39.8" x2="457.7" y2="39.8" stroke="#231f20" stroke-width="1.0"/>
<line x1="455.09999999999997" y1="30.400000000000006" x2="457.7" y2="30.400000000000006" stroke="#231f20" stroke-width="1.0"/>
<line x1="453.4" y1="21.0" x2="457.7" y2="21.0" stroke="#231f20" stroke-width="1.1"/>
<text x="450.4" y="166.4" font-size="10.2" text-anchor="end" fill="#231f20">0</text>
<text x="450.4" y="119.4" font-size="10.2" text-anchor="end" fill="#231f20">5</text>
<text x="450.4" y="72.4" font-size="10.2" text-anchor="end" fill="#231f20" textLength="9.6" lengthAdjust="spacingAndGlyphs">10</text>
<text x="450.4" y="25.4" font-size="10.2" text-anchor="end" fill="#231f20" textLength="9.6" lengthAdjust="spacingAndGlyphs">15</text>
<text x="459.8" y="19.7" font-size="9.6" text-anchor="start" fill="#231f20" textLength="80.4" lengthAdjust="spacingAndGlyphs">Males vs. Females</text>
<line x1="457.09999999999997" y1="162.0" x2="542" y2="162.0" stroke="#231f20" stroke-width="1.3"/>
<line x1="471.0" y1="162.0" x2="471.0" y2="166.3" stroke="#231f20" stroke-width="1.1"/>
<line x1="490.4" y1="162.0" x2="490.4" y2="166.3" stroke="#231f20" stroke-width="1.1"/>
<line x1="510.0" y1="162.0" x2="510.0" y2="166.3" stroke="#231f20" stroke-width="1.1"/>
<line x1="529.5" y1="162.0" x2="529.5" y2="166.3" stroke="#231f20" stroke-width="1.1"/>
<text x="471.0" y="173.8" font-size="8.1" text-anchor="middle" fill="#231f20" textLength="14.2" lengthAdjust="spacingAndGlyphs">Veh.</text>
<text x="490.4" y="173.8" font-size="8.1" text-anchor="middle" fill="#231f20" textLength="14.6" lengthAdjust="spacingAndGlyphs">CBC</text>
<text x="510.0" y="173.8" font-size="8.1" text-anchor="middle" fill="#231f20" textLength="14.2" lengthAdjust="spacingAndGlyphs">Veh.</text>
<text x="529.5" y="173.8" font-size="8.1" text-anchor="middle" fill="#231f20" textLength="14.6" lengthAdjust="spacingAndGlyphs">CBC</text>
<text x="490.4" y="183.0" font-size="8.1" text-anchor="middle" fill="#231f20" textLength="32.6" lengthAdjust="spacingAndGlyphs">20 mg/kg</text>
<text x="530.0" y="183.0" font-size="8.1" text-anchor="middle" fill="#231f20" textLength="32.6" lengthAdjust="spacingAndGlyphs">20 mg/kg</text>
<text transform="translate(434.5,112.0) rotate(-90)" font-size="10.0" fill="#231f20" textLength="38.6" lengthAdjust="spacingAndGlyphs">Force (g)</text>
<path d="M471.6,47.5 L471.6,45.5 L510.0,45.5 L510.0,47.5" fill="none" stroke="#231f20" stroke-width="1.15"/>
<text x="490.8" y="44.0" font-size="8.6" text-anchor="middle" fill="#231f20">ns</text>
<path d="M489.6,37.4 L489.6,35.4 L529.7,35.4 L529.7,37.4" fill="none" stroke="#231f20" stroke-width="1.15"/>
<path d="M509.20,29.95L509.20,33.65M507.60,30.87L510.80,32.72M510.80,30.87L507.60,32.72" stroke="#231f20" stroke-width="0.85" fill="none"/>
<circle cx="471.00" cy="137.00" r="2.7" fill="#ffffff" stroke="#231f20" stroke-width="1.0"/>
<circle cx="468.00" cy="140.00" r="2.7" fill="#ffffff" stroke="#231f20" stroke-width="1.0"/>
<circle cx="474.00" cy="139.50" r="2.7" fill="#ffffff" stroke="#231f20" stroke-width="1.0"/>
<circle cx="471.00" cy="142.00" r="2.7" fill="#ffffff" stroke="#231f20" stroke-width="1.0"/>
<circle cx="467.50" cy="144.50" r="2.7" fill="#ffffff" stroke="#231f20" stroke-width="1.0"/>
<circle cx="474.50" cy="144.50" r="2.7" fill="#ffffff" stroke="#231f20" stroke-width="1.0"/>
<circle cx="471.00" cy="146.50" r="2.7" fill="#ffffff" stroke="#231f20" stroke-width="1.0"/>
<circle cx="468.50" cy="150.00" r="2.7" fill="#ffffff" stroke="#231f20" stroke-width="1.0"/>
<circle cx="473.50" cy="150.50" r="2.7" fill="#ffffff" stroke="#231f20" stroke-width="1.0"/>
<circle cx="471.00" cy="139.00" r="2.7" fill="#ffffff" stroke="#231f20" stroke-width="1.0"/>
<line x1="466.0" y1="143.4" x2="476.0" y2="143.4" stroke="#231f20" stroke-width="1.7"/>
<line x1="471.0" y1="141.6" x2="471.0" y2="145.2" stroke="#231f20" stroke-width="1.53"/>
<line x1="468.5" y1="141.6" x2="473.5" y2="141.6" stroke="#231f20" stroke-width="1.53"/>
<line x1="468.5" y1="145.2" x2="473.5" y2="145.2" stroke="#231f20" stroke-width="1.53"/>
<circle cx="490.60" cy="64.60" r="2.7" fill="#9c3aa2" stroke="#231f20" stroke-width="1.0"/>
<circle cx="493.00" cy="74.00" r="2.7" fill="#9c3aa2" stroke="#231f20" stroke-width="1.0"/>
<circle cx="488.00" cy="76.50" r="2.7" fill="#9c3aa2" stroke="#231f20" stroke-width="1.0"/>
<circle cx="485.50" cy="82.50" r="2.7" fill="#9c3aa2" stroke="#231f20" stroke-width="1.0"/>
<circle cx="490.50" cy="81.00" r="2.7" fill="#9c3aa2" stroke="#231f20" stroke-width="1.0"/>
<circle cx="495.00" cy="83.50" r="2.7" fill="#9c3aa2" stroke="#231f20" stroke-width="1.0"/>
<circle cx="490.40" cy="87.80" r="2.7" fill="#9c3aa2" stroke="#231f20" stroke-width="1.0"/>
<circle cx="485.50" cy="105.70" r="2.7" fill="#9c3aa2" stroke="#231f20" stroke-width="1.0"/>
<circle cx="490.40" cy="104.30" r="2.7" fill="#9c3aa2" stroke="#231f20" stroke-width="1.0"/>
<circle cx="495.00" cy="107.70" r="2.7" fill="#9c3aa2" stroke="#231f20" stroke-width="1.0"/>
<circle cx="490.40" cy="111.20" r="2.7" fill="#9c3aa2" stroke="#231f20" stroke-width="1.0"/>
<circle cx="495.00" cy="113.20" r="2.7" fill="#9c3aa2" stroke="#231f20" stroke-width="1.0"/>
<circle cx="490.40" cy="116.00" r="2.7" fill="#9c3aa2" stroke="#231f20" stroke-width="1.0"/>
<circle cx="490.40" cy="126.30" r="2.7" fill="#9c3aa2" stroke="#231f20" stroke-width="1.0"/>
<line x1="484.4" y1="95.7" x2="496.4" y2="95.7" stroke="#231f20" stroke-width="1.7"/>
<line x1="490.4" y1="91.2" x2="490.4" y2="100.2" stroke="#231f20" stroke-width="1.53"/>
<line x1="487.9" y1="91.2" x2="492.9" y2="91.2" stroke="#231f20" stroke-width="1.53"/>
<line x1="487.9" y1="100.2" x2="492.9" y2="100.2" stroke="#231f20" stroke-width="1.53"/>
<circle cx="510.00" cy="135.00" r="2.7" fill="#7d7d7d" stroke="#231f20" stroke-width="1.0"/>
<circle cx="507.00" cy="138.50" r="2.7" fill="#7d7d7d" stroke="#231f20" stroke-width="1.0"/>
<circle cx="513.00" cy="138.50" r="2.7" fill="#7d7d7d" stroke="#231f20" stroke-width="1.0"/>
<circle cx="510.00" cy="141.00" r="2.7" fill="#7d7d7d" stroke="#231f20" stroke-width="1.0"/>
<circle cx="506.50" cy="144.00" r="2.7" fill="#7d7d7d" stroke="#231f20" stroke-width="1.0"/>
<circle cx="513.50" cy="144.00" r="2.7" fill="#7d7d7d" stroke="#231f20" stroke-width="1.0"/>
<circle cx="510.00" cy="146.00" r="2.7" fill="#7d7d7d" stroke="#231f20" stroke-width="1.0"/>
<circle cx="507.50" cy="149.00" r="2.7" fill="#7d7d7d" stroke="#231f20" stroke-width="1.0"/>
<circle cx="512.50" cy="149.50" r="2.7" fill="#7d7d7d" stroke="#231f20" stroke-width="1.0"/>
<circle cx="510.00" cy="152.00" r="2.7" fill="#7d7d7d" stroke="#231f20" stroke-width="1.0"/>
<line x1="505.0" y1="144.0" x2="515.0" y2="144.0" stroke="#231f20" stroke-width="1.7"/>
<line x1="510.0" y1="142.2" x2="510.0" y2="145.8" stroke="#231f20" stroke-width="1.53"/>
<line x1="507.5" y1="142.2" x2="512.5" y2="142.2" stroke="#231f20" stroke-width="1.53"/>
<line x1="507.5" y1="145.8" x2="512.5" y2="145.8" stroke="#231f20" stroke-width="1.53"/>
<circle cx="529.40" cy="86.40" r="2.7" fill="#f2b6d6" stroke="#231f20" stroke-width="1.0"/>
<circle cx="529.40" cy="91.90" r="2.7" fill="#f2b6d6" stroke="#231f20" stroke-width="1.0"/>
<circle cx="524.60" cy="95.30" r="2.7" fill="#f2b6d6" stroke="#231f20" stroke-width="1.0"/>
<circle cx="534.40" cy="98.00" r="2.7" fill="#f2b6d6" stroke="#231f20" stroke-width="1.0"/>
<circle cx="529.40" cy="98.80" r="2.7" fill="#f2b6d6" stroke="#231f20" stroke-width="1.0"/>
<circle cx="524.60" cy="100.20" r="2.7" fill="#f2b6d6" stroke="#231f20" stroke-width="1.0"/>
<circle cx="534.40" cy="102.20" r="2.7" fill="#f2b6d6" stroke="#231f20" stroke-width="1.0"/>
<circle cx="529.40" cy="102.90" r="2.7" fill="#f2b6d6" stroke="#231f20" stroke-width="1.0"/>
<circle cx="524.60" cy="104.30" r="2.7" fill="#f2b6d6" stroke="#231f20" stroke-width="1.0"/>
<circle cx="524.60" cy="111.90" r="2.7" fill="#f2b6d6" stroke="#231f20" stroke-width="1.0"/>
<circle cx="529.40" cy="114.60" r="2.7" fill="#f2b6d6" stroke="#231f20" stroke-width="1.0"/>
<circle cx="534.40" cy="113.90" r="2.7" fill="#f2b6d6" stroke="#231f20" stroke-width="1.0"/>
<circle cx="529.40" cy="125.00" r="2.7" fill="#f2b6d6" stroke="#231f20" stroke-width="1.0"/>
<circle cx="534.40" cy="123.60" r="2.7" fill="#f2b6d6" stroke="#231f20" stroke-width="1.0"/>
<circle cx="529.40" cy="140.00" r="2.7" fill="#f2b6d6" stroke="#231f20" stroke-width="1.0"/>
<line x1="523.5" y1="107.0" x2="535.5" y2="107.0" stroke="#231f20" stroke-width="1.7"/>
<line x1="529.5" y1="104.3" x2="529.5" y2="110.5" stroke="#231f20" stroke-width="1.53"/>
<line x1="527.0" y1="104.3" x2="532.0" y2="104.3" stroke="#231f20" stroke-width="1.53"/>
<line x1="527.0" y1="110.5" x2="532.0" y2="110.5" stroke="#231f20" stroke-width="1.53"/>
<text x="2.6" y="203.8" font-size="10.4" text-anchor="start" fill="#231f20" textLength="9.6" lengthAdjust="spacingAndGlyphs">E.</text>
<line x1="54.3" y1="205.1" x2="54.3" y2="337.1" stroke="#231f20" stroke-width="1.3"/>
<line x1="50.0" y1="336.5" x2="54.3" y2="336.5" stroke="#231f20" stroke-width="1.1"/>
<line x1="51.699999999999996" y1="327.7733333333333" x2="54.3" y2="327.7733333333333" stroke="#231f20" stroke-width="1.0"/>
<line x1="51.699999999999996" y1="319.0466666666667" x2="54.3" y2="319.0466666666667" stroke="#231f20" stroke-width="1.0"/>
<line x1="51.699999999999996" y1="310.32" x2="54.3" y2="310.32" stroke="#231f20" stroke-width="1.0"/>
<line x1="51.699999999999996" y1="301.59333333333336" x2="54.3" y2="301.59333333333336" stroke="#231f20" stroke-width="1.0"/>
<line x1="50.0" y1="292.8666666666667" x2="54.3" y2="292.8666666666667" stroke="#231f20" stroke-width="1.1"/>
<line x1="51.699999999999996" y1="284.14" x2="54.3" y2="284.14" stroke="#231f20" stroke-width="1.0"/>
<line x1="51.699999999999996" y1="275.41333333333336" x2="54.3" y2="275.41333333333336" stroke="#231f20" stroke-width="1.0"/>
<line x1="51.699999999999996" y1="266.68666666666667" x2="54.3" y2="266.68666666666667" stroke="#231f20" stroke-width="1.0"/>
<line x1="51.699999999999996" y1="257.96000000000004" x2="54.3" y2="257.96000000000004" stroke="#231f20" stroke-width="1.0"/>
<line x1="50.0" y1="249.23333333333335" x2="54.3" y2="249.23333333333335" stroke="#231f20" stroke-width="1.1"/>
<line x1="51.699999999999996" y1="240.50666666666666" x2="54.3" y2="240.50666666666666" stroke="#231f20" stroke-width="1.0"/>
<line x1="51.699999999999996" y1="231.78" x2="54.3" y2="231.78" stroke="#231f20" stroke-width="1.0"/>
<line x1="51.699999999999996" y1="223.05333333333334" x2="54.3" y2="223.05333333333334" stroke="#231f20" stroke-width="1.0"/>
<line x1="51.699999999999996" y1="214.32666666666665" x2="54.3" y2="214.32666666666665" stroke="#231f20" stroke-width="1.0"/>
<line x1="50.0" y1="205.6" x2="54.3" y2="205.6" stroke="#231f20" stroke-width="1.1"/>
<text x="47.8" y="340.2" font-size="10.2" text-anchor="end" fill="#231f20">0</text>
<text x="47.8" y="296.56666666666666" font-size="10.2" text-anchor="end" fill="#231f20">5</text>
<text x="47.8" y="252.93333333333334" font-size="10.2" text-anchor="end" fill="#231f20" textLength="9.6" lengthAdjust="spacingAndGlyphs">10</text>
<text x="47.8" y="209.29999999999998" font-size="10.2" text-anchor="end" fill="#231f20" textLength="9.6" lengthAdjust="spacingAndGlyphs">15</text>
<text x="56.5" y="205.7" font-size="9.6" text-anchor="start" fill="#231f20" textLength="26.6" lengthAdjust="spacingAndGlyphs">Males</text>
<line x1="53.699999999999996" y1="336.5" x2="270.5" y2="336.5" stroke="#231f20" stroke-width="1.3"/>
<line x1="67.8" y1="336.5" x2="67.8" y2="340.8" stroke="#231f20" stroke-width="1.1"/>
<line x1="99.1" y1="336.5" x2="99.1" y2="340.8" stroke="#231f20" stroke-width="1.1"/>
<line x1="130.4" y1="336.5" x2="130.4" y2="340.8" stroke="#231f20" stroke-width="1.1"/>
<line x1="161.7" y1="336.5" x2="161.7" y2="340.8" stroke="#231f20" stroke-width="1.1"/>
<line x1="193.0" y1="336.5" x2="193.0" y2="340.8" stroke="#231f20" stroke-width="1.1"/>
<line x1="224.3" y1="336.5" x2="224.3" y2="340.8" stroke="#231f20" stroke-width="1.1"/>
<line x1="255.60000000000002" y1="336.5" x2="255.60000000000002" y2="340.8" stroke="#231f20" stroke-width="1.1"/>
<text transform="translate(33.3,289.3) rotate(-90)" font-size="10.0" fill="#231f20" textLength="38.6" lengthAdjust="spacingAndGlyphs">Force (g)</text>
<text x="58.199999999999996" y="347.7" font-size="8.4" text-anchor="start" fill="#231f20" textLength="18.2" lengthAdjust="spacingAndGlyphs">Base-</text>
<text x="58.199999999999996" y="357.7" font-size="8.4" text-anchor="start" fill="#231f20" textLength="12.7" lengthAdjust="spacingAndGlyphs">line</text>
<text x="91.8" y="347.7" font-size="8.4" text-anchor="start" fill="#231f20" textLength="17.2" lengthAdjust="spacingAndGlyphs">Post-</text>
<text x="91.8" y="357.7" font-size="8.4" text-anchor="start" fill="#231f20" textLength="15.5" lengthAdjust="spacingAndGlyphs">cisp.</text>
<text x="125.9" y="347.7" font-size="8.4" text-anchor="start" fill="#231f20" textLength="8.5" lengthAdjust="spacingAndGlyphs">30</text>
<text x="122.7" y="357.7" font-size="8.4" text-anchor="start" fill="#231f20" textLength="15.5" lengthAdjust="spacingAndGlyphs">min.</text>
<text x="157.89999999999998" y="348.7" font-size="8.4" text-anchor="start" fill="#231f20" textLength="9.5" lengthAdjust="spacingAndGlyphs">1 h</text>
<text x="189.2" y="348.7" font-size="8.4" text-anchor="start" fill="#231f20" textLength="9.5" lengthAdjust="spacingAndGlyphs">2 h</text>
<text x="220.5" y="348.7" font-size="8.4" text-anchor="start" fill="#231f20" textLength="9.5" lengthAdjust="spacingAndGlyphs">4 h</text>
<text x="251.8" y="348.7" font-size="8.4" text-anchor="start" fill="#231f20" textLength="9.5" lengthAdjust="spacingAndGlyphs">6 h</text>
<circle cx="195.60" cy="211.80" r="2.2" fill="#ffffff" stroke="#231f20" stroke-width="0.9"/>
<circle cx="195.60" cy="221.60" r="2.2" fill="#8487d2" stroke="#231f20" stroke-width="0.9"/>
<text x="201.4" y="214.8" font-size="10.0" text-anchor="start" fill="#231f20" textLength="32.4" lengthAdjust="spacingAndGlyphs">Vehicle</text>
<text x="201.4" y="224.6" font-size="10.0" text-anchor="start" fill="#231f20" textLength="70.3" lengthAdjust="spacingAndGlyphs">CBC (20 mg/kg)</text>
<path d="M61.6,229.1 L61.6,227.1 L74.0,227.1 L74.0,229.1" fill="none" stroke="#231f20" stroke-width="1.15"/>
<text x="67.8" y="225.2" font-size="8.6" text-anchor="middle" fill="#231f20">ns</text>
<path d="M73.6,234.4 L73.6,232.4 L168.2,232.4 L168.2,234.4" fill="none" stroke="#231f20" stroke-width="1.15"/>
<path d="M118.05,226.95L118.05,230.65M116.45,227.88L119.65,229.73M119.65,227.88L116.45,229.73" stroke="#231f20" stroke-width="0.85" fill="none"/>
<path d="M122.35,226.95L122.35,230.65M120.75,227.88L123.95,229.73M123.95,227.88L120.75,229.73" stroke="#231f20" stroke-width="0.85" fill="none"/>
<path d="M103.8,249.7 L103.8,247.7 L168.2,247.7 L168.2,249.7" fill="none" stroke="#231f20" stroke-width="1.15"/>
<path d="M130.15,242.25L130.15,245.95M128.55,243.17L131.75,245.03M131.75,243.17L128.55,245.03" stroke="#231f20" stroke-width="0.85" fill="none"/>
<path d="M134.45,242.25L134.45,245.95M132.85,243.17L136.05,245.03M136.05,243.17L132.85,245.03" stroke="#231f20" stroke-width="0.85" fill="none"/>
<path d="M155.3,266.0 L155.3,264.0 L168.2,264.0 L168.2,266.0" fill="none" stroke="#231f20" stroke-width="1.15"/>
<path d="M157.50,258.55L157.50,262.25M155.90,259.47L159.10,261.32M159.10,259.47L155.90,261.32" stroke="#231f20" stroke-width="0.85" fill="none"/>
<path d="M161.80,258.55L161.80,262.25M160.20,259.47L163.40,261.32M163.40,259.47L160.20,261.32" stroke="#231f20" stroke-width="0.85" fill="none"/>
<path d="M166.10,258.55L166.10,262.25M164.50,259.47L167.70,261.32M167.70,259.47L164.50,261.32" stroke="#231f20" stroke-width="0.85" fill="none"/>
<path d="M93.1,306.8 L93.1,304.8 L105.5,304.8 L105.5,306.8" fill="none" stroke="#231f20" stroke-width="1.15"/>
<text x="99.3" y="302.8" font-size="8.6" text-anchor="middle" fill="#231f20">ns</text>
<circle cx="61.80" cy="235.60" r="2.7" fill="#ffffff" stroke="#231f20" stroke-width="1.0"/>
<circle cx="61.80" cy="248.00" r="2.7" fill="#ffffff" stroke="#231f20" stroke-width="1.0"/>
<circle cx="61.30" cy="265.00" r="2.7" fill="#ffffff" stroke="#231f20" stroke-width="1.0"/>
<circle cx="63.30" cy="268.60" r="2.7" fill="#ffffff" stroke="#231f20" stroke-width="1.0"/>
<circle cx="60.30" cy="270.80" r="2.7" fill="#ffffff" stroke="#231f20" stroke-width="1.0"/>
<circle cx="61.80" cy="277.70" r="2.7" fill="#ffffff" stroke="#231f20" stroke-width="1.0"/>
<circle cx="63.30" cy="286.60" r="2.7" fill="#ffffff" stroke="#231f20" stroke-width="1.0"/>
<circle cx="60.80" cy="290.00" r="2.7" fill="#ffffff" stroke="#231f20" stroke-width="1.0"/>
<line x1="57.5" y1="267.6" x2="66.1" y2="267.6" stroke="#231f20" stroke-width="2.1"/>
<line x1="61.8" y1="261.1" x2="61.8" y2="274.1" stroke="#231f20" stroke-width="1.8900000000000001"/>
<line x1="59.3" y1="261.1" x2="64.3" y2="261.1" stroke="#231f20" stroke-width="1.8900000000000001"/>
<line x1="59.3" y1="274.1" x2="64.3" y2="274.1" stroke="#231f20" stroke-width="1.8900000000000001"/>
<circle cx="73.80" cy="248.70" r="2.7" fill="#8487d2" stroke="#231f20" stroke-width="1.0"/>
<circle cx="73.80" cy="255.50" r="2.7" fill="#8487d2" stroke="#231f20" stroke-width="1.0"/>
<circle cx="75.30" cy="259.50" r="2.7" fill="#8487d2" stroke="#231f20" stroke-width="1.0"/>
<circle cx="72.30" cy="261.00" r="2.7" fill="#8487d2" stroke="#231f20" stroke-width="1.0"/>
<circle cx="74.80" cy="263.00" r="2.7" fill="#8487d2" stroke="#231f20" stroke-width="1.0"/>
<circle cx="73.80" cy="270.40" r="2.7" fill="#8487d2" stroke="#231f20" stroke-width="1.0"/>
<circle cx="72.80" cy="274.80" r="2.7" fill="#8487d2" stroke="#231f20" stroke-width="1.0"/>
<line x1="69.5" y1="259.6" x2="78.1" y2="259.6" stroke="#231f20" stroke-width="2.1"/>
<line x1="73.8" y1="255.40000000000003" x2="73.8" y2="263.8" stroke="#231f20" stroke-width="1.8900000000000001"/>
<line x1="71.3" y1="255.40000000000003" x2="76.3" y2="255.40000000000003" stroke="#231f20" stroke-width="1.8900000000000001"/>
<line x1="71.3" y1="263.8" x2="76.3" y2="263.8" stroke="#231f20" stroke-width="1.8900000000000001"/>
<circle cx="93.10" cy="311.00" r="2.7" fill="#ffffff" stroke="#231f20" stroke-width="1.0"/>
<circle cx="92.10" cy="314.00" r="2.7" fill="#ffffff" stroke="#231f20" stroke-width="1.0"/>
<circle cx="94.10" cy="317.00" r="2.7" fill="#ffffff" stroke="#231f20" stroke-width="1.0"/>
<circle cx="93.10" cy="320.00" r="2.7" fill="#ffffff" stroke="#231f20" stroke-width="1.0"/>
<circle cx="92.10" cy="324.00" r="2.7" fill="#ffffff" stroke="#231f20" stroke-width="1.0"/>
<circle cx="93.10" cy="326.80" r="2.7" fill="#ffffff" stroke="#231f20" stroke-width="1.0"/>
<line x1="88.8" y1="316.9" x2="97.39999999999999" y2="316.9" stroke="#231f20" stroke-width="2.1"/>
<line x1="93.1" y1="314.9" x2="93.1" y2="318.9" stroke="#231f20" stroke-width="1.8900000000000001"/>
<line x1="90.6" y1="314.9" x2="95.6" y2="314.9" stroke="#231f20" stroke-width="1.8900000000000001"/>
<line x1="90.6" y1="318.9" x2="95.6" y2="318.9" stroke="#231f20" stroke-width="1.8900000000000001"/>
<circle cx="105.10" cy="311.70" r="2.7" fill="#8487d2" stroke="#231f20" stroke-width="1.0"/>
<circle cx="106.10" cy="314.00" r="2.7" fill="#8487d2" stroke="#231f20" stroke-width="1.0"/>
<circle cx="104.10" cy="317.00" r="2.7" fill="#8487d2" stroke="#231f20" stroke-width="1.0"/>
<circle cx="106.10" cy="320.00" r="2.7" fill="#8487d2" stroke="#231f20" stroke-width="1.0"/>
<circle cx="105.10" cy="322.70" r="2.7" fill="#8487d2" stroke="#231f20" stroke-width="1.0"/>
<line x1="100.8" y1="317.5" x2="109.39999999999999" y2="317.5" stroke="#231f20" stroke-width="2.1"/>
<line x1="105.1" y1="315.5" x2="105.1" y2="319.5" stroke="#231f20" stroke-width="1.8900000000000001"/>
<line x1="102.6" y1="315.5" x2="107.6" y2="315.5" stroke="#231f20" stroke-width="1.8900000000000001"/>
<line x1="102.6" y1="319.5" x2="107.6" y2="319.5" stroke="#231f20" stroke-width="1.8900000000000001"/>
<circle cx="124.40" cy="311.00" r="2.7" fill="#ffffff" stroke="#231f20" stroke-width="1.0"/>
<circle cx="123.40" cy="314.00" r="2.7" fill="#ffffff" stroke="#231f20" stroke-width="1.0"/>
<circle cx="125.40" cy="318.00" r="2.7" fill="#ffffff" stroke="#231f20" stroke-width="1.0"/>
<circle cx="123.40" cy="321.00" r="2.7" fill="#ffffff" stroke="#231f20" stroke-width="1.0"/>
<circle cx="125.40" cy="324.00" r="2.7" fill="#ffffff" stroke="#231f20" stroke-width="1.0"/>
<circle cx="124.40" cy="326.00" r="2.7" fill="#ffffff" stroke="#231f20" stroke-width="1.0"/>
<line x1="120.10000000000001" y1="319.0" x2="128.70000000000002" y2="319.0" stroke="#231f20" stroke-width="2.1"/>
<line x1="124.4" y1="317.0" x2="124.4" y2="321.0" stroke="#231f20" stroke-width="1.8900000000000001"/>
<line x1="121.9" y1="317.0" x2="126.9" y2="317.0" stroke="#231f20" stroke-width="1.8900000000000001"/>
<line x1="121.9" y1="321.0" x2="126.9" y2="321.0" stroke="#231f20" stroke-width="1.8900000000000001"/>
<circle cx="136.40" cy="291.70" r="2.7" fill="#8487d2" stroke="#231f20" stroke-width="1.0"/>
<circle cx="137.40" cy="293.10" r="2.7" fill="#8487d2" stroke="#231f20" stroke-width="1.0"/>
<circle cx="136.40" cy="301.30" r="2.7" fill="#8487d2" stroke="#231f20" stroke-width="1.0"/>
<circle cx="136.40" cy="309.60" r="2.7" fill="#8487d2" stroke="#231f20" stroke-width="1.0"/>
<circle cx="136.40" cy="316.50" r="2.7" fill="#8487d2" stroke="#231f20" stroke-width="1.0"/>
<circle cx="137.40" cy="320.00" r="2.7" fill="#8487d2" stroke="#231f20" stroke-width="1.0"/>
<line x1="132.1" y1="308.9" x2="140.70000000000002" y2="308.9" stroke="#231f20" stroke-width="2.1"/>
<line x1="136.4" y1="303.5" x2="136.4" y2="314.29999999999995" stroke="#231f20" stroke-width="1.8900000000000001"/>
<line x1="133.9" y1="303.5" x2="138.9" y2="303.5" stroke="#231f20" stroke-width="1.8900000000000001"/>
<line x1="133.9" y1="314.29999999999995" x2="138.9" y2="314.29999999999995" stroke="#231f20" stroke-width="1.8900000000000001"/>
<circle cx="155.70" cy="316.00" r="2.7" fill="#ffffff" stroke="#231f20" stroke-width="1.0"/>
<circle cx="155.70" cy="321.60" r="2.7" fill="#ffffff" stroke="#231f20" stroke-width="1.0"/>
<circle cx="155.70" cy="318.00" r="2.7" fill="#ffffff" stroke="#231f20" stroke-width="1.0"/>
<line x1="151.39999999999998" y1="318.0" x2="160.0" y2="318.0" stroke="#231f20" stroke-width="2.1"/>
<line x1="155.7" y1="316.5" x2="155.7" y2="319.5" stroke="#231f20" stroke-width="1.8900000000000001"/>
<line x1="153.2" y1="316.5" x2="158.2" y2="316.5" stroke="#231f20" stroke-width="1.8900000000000001"/>
<line x1="153.2" y1="319.5" x2="158.2" y2="319.5" stroke="#231f20" stroke-width="1.8900000000000001"/>
<circle cx="167.70" cy="274.20" r="2.7" fill="#8487d2" stroke="#231f20" stroke-width="1.0"/>
<circle cx="167.70" cy="284.80" r="2.7" fill="#8487d2" stroke="#231f20" stroke-width="1.0"/>
<circle cx="168.70" cy="286.30" r="2.7" fill="#8487d2" stroke="#231f20" stroke-width="1.0"/>
<circle cx="167.70" cy="295.20" r="2.7" fill="#8487d2" stroke="#231f20" stroke-width="1.0"/>
<circle cx="167.70" cy="302.90" r="2.7" fill="#8487d2" stroke="#231f20" stroke-width="1.0"/>
<circle cx="166.70" cy="280.00" r="2.7" fill="#8487d2" stroke="#231f20" stroke-width="1.0"/>
<line x1="163.39999999999998" y1="289.6" x2="172.0" y2="289.6" stroke="#231f20" stroke-width="2.1"/>
<line x1="167.7" y1="285.0" x2="167.7" y2="294.20000000000005" stroke="#231f20" stroke-width="1.8900000000000001"/>
<line x1="165.2" y1="285.0" x2="170.2" y2="285.0" stroke="#231f20" stroke-width="1.8900000000000001"/>
<line x1="165.2" y1="294.20000000000005" x2="170.2" y2="294.20000000000005" stroke="#231f20" stroke-width="1.8900000000000001"/>
<circle cx="187.00" cy="313.00" r="2.7" fill="#ffffff" stroke="#231f20" stroke-width="1.0"/>
<circle cx="186.00" cy="316.00" r="2.7" fill="#ffffff" stroke="#231f20" stroke-width="1.0"/>
<circle cx="188.00" cy="319.00" r="2.7" fill="#ffffff" stroke="#231f20" stroke-width="1.0"/>
<circle cx="187.00" cy="322.00" r="2.7" fill="#ffffff" stroke="#231f20" stroke-width="1.0"/>
<line x1="182.7" y1="318.5" x2="191.3" y2="318.5" stroke="#231f20" stroke-width="2.1"/>
<line x1="187.0" y1="316.7" x2="187.0" y2="320.3" stroke="#231f20" stroke-width="1.8900000000000001"/>
<line x1="184.5" y1="316.7" x2="189.5" y2="316.7" stroke="#231f20" stroke-width="1.8900000000000001"/>
<line x1="184.5" y1="320.3" x2="189.5" y2="320.3" stroke="#231f20" stroke-width="1.8900000000000001"/>
<circle cx="199.00" cy="265.40" r="2.7" fill="#8487d2" stroke="#231f20" stroke-width="1.0"/>
<circle cx="199.00" cy="281.50" r="2.7" fill="#8487d2" stroke="#231f20" stroke-width="1.0"/>
<circle cx="199.00" cy="289.60" r="2.7" fill="#8487d2" stroke="#231f20" stroke-width="1.0"/>
<circle cx="199.00" cy="291.80" r="2.7" fill="#8487d2" stroke="#231f20" stroke-width="1.0"/>
<circle cx="199.00" cy="314.50" r="2.7" fill="#8487d2" stroke="#231f20" stroke-width="1.0"/>
<circle cx="198.00" cy="317.00" r="2.7" fill="#8487d2" stroke="#231f20" stroke-width="1.0"/>
<circle cx="200.00" cy="319.20" r="2.7" fill="#8487d2" stroke="#231f20" stroke-width="1.0"/>
<line x1="194.7" y1="299.5" x2="203.3" y2="299.5" stroke="#231f20" stroke-width="2.1"/>
<line x1="199.0" y1="291.3" x2="199.0" y2="307.7" stroke="#231f20" stroke-width="1.8900000000000001"/>
<line x1="196.5" y1="291.3" x2="201.5" y2="291.3" stroke="#231f20" stroke-width="1.8900000000000001"/>
<line x1="196.5" y1="307.7" x2="201.5" y2="307.7" stroke="#231f20" stroke-width="1.8900000000000001"/>
<circle cx="218.30" cy="311.00" r="2.7" fill="#ffffff" stroke="#231f20" stroke-width="1.0"/>
<circle cx="217.30" cy="314.00" r="2.7" fill="#ffffff" stroke="#231f20" stroke-width="1.0"/>
<circle cx="219.30" cy="317.00" r="2.7" fill="#ffffff" stroke="#231f20" stroke-width="1.0"/>
<circle cx="217.30" cy="320.00" r="2.7" fill="#ffffff" stroke="#231f20" stroke-width="1.0"/>
<circle cx="218.30" cy="323.00" r="2.7" fill="#ffffff" stroke="#231f20" stroke-width="1.0"/>
<line x1="214.0" y1="317.0" x2="222.60000000000002" y2="317.0" stroke="#231f20" stroke-width="2.1"/>
<line x1="218.3" y1="315.2" x2="218.3" y2="318.8" stroke="#231f20" stroke-width="1.8900000000000001"/>
<line x1="215.8" y1="315.2" x2="220.8" y2="315.2" stroke="#231f20" stroke-width="1.8900000000000001"/>
<line x1="215.8" y1="318.8" x2="220.8" y2="318.8" stroke="#231f20" stroke-width="1.8900000000000001"/>
<circle cx="230.30" cy="278.10" r="2.7" fill="#8487d2" stroke="#231f20" stroke-width="1.0"/>
<circle cx="230.30" cy="284.30" r="2.7" fill="#8487d2" stroke="#231f20" stroke-width="1.0"/>
<circle cx="230.30" cy="313.90" r="2.7" fill="#8487d2" stroke="#231f20" stroke-width="1.0"/>
<circle cx="231.30" cy="317.50" r="2.7" fill="#8487d2" stroke="#231f20" stroke-width="1.0"/>
<circle cx="229.30" cy="319.30" r="2.7" fill="#8487d2" stroke="#231f20" stroke-width="1.0"/>
<circle cx="230.30" cy="323.80" r="2.7" fill="#8487d2" stroke="#231f20" stroke-width="1.0"/>
<line x1="226.0" y1="304.4" x2="234.60000000000002" y2="304.4" stroke="#231f20" stroke-width="2.1"/>
<line x1="230.3" y1="297.7" x2="230.3" y2="311.09999999999997" stroke="#231f20" stroke-width="1.8900000000000001"/>
<line x1="227.8" y1="297.7" x2="232.8" y2="297.7" stroke="#231f20" stroke-width="1.8900000000000001"/>
<line x1="227.8" y1="311.09999999999997" x2="232.8" y2="311.09999999999997" stroke="#231f20" stroke-width="1.8900000000000001"/>
<circle cx="249.60" cy="311.00" r="2.7" fill="#ffffff" stroke="#231f20" stroke-width="1.0"/>
<circle cx="248.60" cy="314.00" r="2.7" fill="#ffffff" stroke="#231f20" stroke-width="1.0"/>
<circle cx="250.60" cy="317.00" r="2.7" fill="#ffffff" stroke="#231f20" stroke-width="1.0"/>
<circle cx="248.60" cy="320.00" r="2.7" fill="#ffffff" stroke="#231f20" stroke-width="1.0"/>
<circle cx="249.60" cy="323.00" r="2.7" fill="#ffffff" stroke="#231f20" stroke-width="1.0"/>
<line x1="245.3" y1="316.5" x2="253.90000000000003" y2="316.5" stroke="#231f20" stroke-width="2.1"/>
<line x1="249.60000000000002" y1="314.7" x2="249.60000000000002" y2="318.3" stroke="#231f20" stroke-width="1.8900000000000001"/>
<line x1="247.10000000000002" y1="314.7" x2="252.10000000000002" y2="314.7" stroke="#231f20" stroke-width="1.8900000000000001"/>
<line x1="247.10000000000002" y1="318.3" x2="252.10000000000002" y2="318.3" stroke="#231f20" stroke-width="1.8900000000000001"/>
<circle cx="261.60" cy="308.00" r="2.7" fill="#8487d2" stroke="#231f20" stroke-width="1.0"/>
<circle cx="262.60" cy="311.00" r="2.7" fill="#8487d2" stroke="#231f20" stroke-width="1.0"/>
<circle cx="260.60" cy="314.00" r="2.7" fill="#8487d2" stroke="#231f20" stroke-width="1.0"/>
<circle cx="262.60" cy="317.00" r="2.7" fill="#8487d2" stroke="#231f20" stroke-width="1.0"/>
<circle cx="260.60" cy="320.00" r="2.7" fill="#8487d2" stroke="#231f20" stroke-width="1.0"/>
<circle cx="261.60" cy="323.00" r="2.7" fill="#8487d2" stroke="#231f20" stroke-width="1.0"/>
<circle cx="261.60" cy="326.00" r="2.7" fill="#8487d2" stroke="#231f20" stroke-width="1.0"/>
<line x1="257.3" y1="317.0" x2="265.90000000000003" y2="317.0" stroke="#231f20" stroke-width="2.1"/>
<line x1="261.6" y1="315.0" x2="261.6" y2="319.0" stroke="#231f20" stroke-width="1.8900000000000001"/>
<line x1="259.1" y1="315.0" x2="264.1" y2="315.0" stroke="#231f20" stroke-width="1.8900000000000001"/>
<line x1="259.1" y1="319.0" x2="264.1" y2="319.0" stroke="#231f20" stroke-width="1.8900000000000001"/>
<text x="283.8" y="203.8" font-size="10.4" text-anchor="start" fill="#231f20" textLength="8.2" lengthAdjust="spacingAndGlyphs">F.</text>
<line x1="326.6" y1="205.2" x2="326.6" y2="337.0" stroke="#231f20" stroke-width="1.3"/>
<line x1="322.3" y1="336.4" x2="326.6" y2="336.4" stroke="#231f20" stroke-width="1.1"/>
<line x1="324.0" y1="327.68666666666667" x2="326.6" y2="327.68666666666667" stroke="#231f20" stroke-width="1.0"/>
<line x1="324.0" y1="318.9733333333333" x2="326.6" y2="318.9733333333333" stroke="#231f20" stroke-width="1.0"/>
<line x1="324.0" y1="310.26" x2="326.6" y2="310.26" stroke="#231f20" stroke-width="1.0"/>
<line x1="324.0" y1="301.5466666666666" x2="326.6" y2="301.5466666666666" stroke="#231f20" stroke-width="1.0"/>
<line x1="322.3" y1="292.8333333333333" x2="326.6" y2="292.8333333333333" stroke="#231f20" stroke-width="1.1"/>
<line x1="324.0" y1="284.12" x2="326.6" y2="284.12" stroke="#231f20" stroke-width="1.0"/>
<line x1="324.0" y1="275.40666666666664" x2="326.6" y2="275.40666666666664" stroke="#231f20" stroke-width="1.0"/>
<line x1="324.0" y1="266.6933333333333" x2="326.6" y2="266.6933333333333" stroke="#231f20" stroke-width="1.0"/>
<line x1="324.0" y1="257.97999999999996" x2="326.6" y2="257.97999999999996" stroke="#231f20" stroke-width="1.0"/>
<line x1="322.3" y1="249.26666666666665" x2="326.6" y2="249.26666666666665" stroke="#231f20" stroke-width="1.1"/>
<line x1="324.0" y1="240.5533333333333" x2="326.6" y2="240.5533333333333" stroke="#231f20" stroke-width="1.0"/>
<line x1="324.0" y1="231.83999999999997" x2="326.6" y2="231.83999999999997" stroke="#231f20" stroke-width="1.0"/>
<line x1="324.0" y1="223.12666666666667" x2="326.6" y2="223.12666666666667" stroke="#231f20" stroke-width="1.0"/>
<line x1="324.0" y1="214.4133333333333" x2="326.6" y2="214.4133333333333" stroke="#231f20" stroke-width="1.0"/>
<line x1="322.3" y1="205.7" x2="326.6" y2="205.7" stroke="#231f20" stroke-width="1.1"/>
<text x="319.70000000000005" y="340.09999999999997" font-size="10.2" text-anchor="end" fill="#231f20">0</text>
<text x="319.70000000000005" y="296.5333333333333" font-size="10.2" text-anchor="end" fill="#231f20">5</text>
<text x="319.70000000000005" y="252.96666666666664" font-size="10.2" text-anchor="end" fill="#231f20" textLength="9.6" lengthAdjust="spacingAndGlyphs">10</text>
<text x="319.70000000000005" y="209.39999999999998" font-size="10.2" text-anchor="end" fill="#231f20" textLength="9.6" lengthAdjust="spacingAndGlyphs">15</text>
<text x="329.6" y="205.7" font-size="9.6" text-anchor="start" fill="#231f20" textLength="38.0" lengthAdjust="spacingAndGlyphs">Females</text>
<line x1="326.0" y1="336.4" x2="542.8" y2="336.4" stroke="#231f20" stroke-width="1.3"/>
<line x1="340.0" y1="336.4" x2="340.0" y2="340.7" stroke="#231f20" stroke-width="1.1"/>
<line x1="371.35" y1="336.4" x2="371.35" y2="340.7" stroke="#231f20" stroke-width="1.1"/>
<line x1="402.7" y1="336.4" x2="402.7" y2="340.7" stroke="#231f20" stroke-width="1.1"/>
<line x1="434.05" y1="336.4" x2="434.05" y2="340.7" stroke="#231f20" stroke-width="1.1"/>
<line x1="465.4" y1="336.4" x2="465.4" y2="340.7" stroke="#231f20" stroke-width="1.1"/>
<line x1="496.75" y1="336.4" x2="496.75" y2="340.7" stroke="#231f20" stroke-width="1.1"/>
<line x1="528.1" y1="336.4" x2="528.1" y2="340.7" stroke="#231f20" stroke-width="1.1"/>
<text transform="translate(304.3,289.3) rotate(-90)" font-size="10.0" fill="#231f20" textLength="38.6" lengthAdjust="spacingAndGlyphs">Force (g)</text>
<text x="330.4" y="347.7" font-size="8.4" text-anchor="start" fill="#231f20" textLength="18.2" lengthAdjust="spacingAndGlyphs">Base-</text>
<text x="330.4" y="357.7" font-size="8.4" text-anchor="start" fill="#231f20" textLength="12.7" lengthAdjust="spacingAndGlyphs">line</text>
<text x="364.05" y="347.7" font-size="8.4" text-anchor="start" fill="#231f20" textLength="17.2" lengthAdjust="spacingAndGlyphs">Post-</text>
<text x="364.05" y="357.7" font-size="8.4" text-anchor="start" fill="#231f20" textLength="15.5" lengthAdjust="spacingAndGlyphs">cisp.</text>
<text x="398.2" y="347.7" font-size="8.4" text-anchor="start" fill="#231f20" textLength="8.5" lengthAdjust="spacingAndGlyphs">30</text>
<text x="395.0" y="357.7" font-size="8.4" text-anchor="start" fill="#231f20" textLength="15.5" lengthAdjust="spacingAndGlyphs">min.</text>
<text x="430.25" y="348.7" font-size="8.4" text-anchor="start" fill="#231f20" textLength="9.5" lengthAdjust="spacingAndGlyphs">1 h</text>
<text x="461.59999999999997" y="348.7" font-size="8.4" text-anchor="start" fill="#231f20" textLength="9.5" lengthAdjust="spacingAndGlyphs">2 h</text>
<text x="492.95" y="348.7" font-size="8.4" text-anchor="start" fill="#231f20" textLength="9.5" lengthAdjust="spacingAndGlyphs">4 h</text>
<text x="524.3000000000001" y="348.7" font-size="8.4" text-anchor="start" fill="#231f20" textLength="9.5" lengthAdjust="spacingAndGlyphs">6 h</text>
<circle cx="464.00" cy="211.80" r="2.2" fill="#ffffff" stroke="#231f20" stroke-width="0.9"/>
<circle cx="464.00" cy="221.60" r="2.2" fill="#8487d2" stroke="#231f20" stroke-width="0.9"/>
<text x="469.7" y="214.8" font-size="10.0" text-anchor="start" fill="#231f20" textLength="32.4" lengthAdjust="spacingAndGlyphs">Vehicle</text>
<text x="469.7" y="224.6" font-size="10.0" text-anchor="start" fill="#231f20" textLength="70.3" lengthAdjust="spacingAndGlyphs">CBC (20 mg/kg)</text>
<path d="M346.5,247.4 L346.5,245.4 L441.3,245.4 L441.3,247.4" fill="none" stroke="#231f20" stroke-width="1.15"/>
<text x="393.5" y="244.1" font-size="8.6" text-anchor="middle" fill="#231f20">ns</text>
<path d="M375.4,257.3 L375.4,255.3 L441.3,255.3 L441.3,257.3" fill="none" stroke="#231f20" stroke-width="1.15"/>
<path d="M405.60,249.85L405.60,253.55M404.00,250.78L407.20,252.63M407.20,250.78L404.00,252.63" stroke="#231f20" stroke-width="0.85" fill="none"/>
<path d="M409.90,249.85L409.90,253.55M408.30,250.78L411.50,252.63M411.50,250.78L408.30,252.63" stroke="#231f20" stroke-width="0.85" fill="none"/>
<path d="M414.20,249.85L414.20,253.55M412.60,250.78L415.80,252.63M415.80,250.78L412.60,252.63" stroke="#231f20" stroke-width="0.85" fill="none"/>
<path d="M428.2,267.6 L428.2,265.6 L441.3,265.6 L441.3,267.6" fill="none" stroke="#231f20" stroke-width="1.15"/>
<path d="M430.60,260.15L430.60,263.85M429.00,261.07L432.20,262.93M432.20,261.07L429.00,262.93" stroke="#231f20" stroke-width="0.85" fill="none"/>
<path d="M434.90,260.15L434.90,263.85M433.30,261.07L436.50,262.93M436.50,261.07L433.30,262.93" stroke="#231f20" stroke-width="0.85" fill="none"/>
<path d="M439.20,260.15L439.20,263.85M437.60,261.07L440.80,262.93M440.80,261.07L437.60,262.93" stroke="#231f20" stroke-width="0.85" fill="none"/>
<circle cx="334.00" cy="261.00" r="2.7" fill="#ffffff" stroke="#231f20" stroke-width="1.0"/>
<circle cx="334.00" cy="270.60" r="2.7" fill="#ffffff" stroke="#231f20" stroke-width="1.0"/>
<circle cx="333.00" cy="274.70" r="2.7" fill="#ffffff" stroke="#231f20" stroke-width="1.0"/>
<circle cx="335.00" cy="279.00" r="2.7" fill="#ffffff" stroke="#231f20" stroke-width="1.0"/>
<circle cx="334.00" cy="283.80" r="2.7" fill="#ffffff" stroke="#231f20" stroke-width="1.0"/>
<circle cx="334.00" cy="290.40" r="2.7" fill="#ffffff" stroke="#231f20" stroke-width="1.0"/>
<line x1="329.7" y1="278.0" x2="338.3" y2="278.0" stroke="#231f20" stroke-width="2.1"/>
<line x1="334.0" y1="274.0" x2="334.0" y2="282.0" stroke="#231f20" stroke-width="1.8900000000000001"/>
<line x1="331.5" y1="274.0" x2="336.5" y2="274.0" stroke="#231f20" stroke-width="1.8900000000000001"/>
<line x1="331.5" y1="282.0" x2="336.5" y2="282.0" stroke="#231f20" stroke-width="1.8900000000000001"/>
<circle cx="346.00" cy="257.40" r="2.7" fill="#8487d2" stroke="#231f20" stroke-width="1.0"/>
<circle cx="346.00" cy="273.00" r="2.7" fill="#8487d2" stroke="#231f20" stroke-width="1.0"/>
<circle cx="347.00" cy="275.50" r="2.7" fill="#8487d2" stroke="#231f20" stroke-width="1.0"/>
<circle cx="345.00" cy="278.00" r="2.7" fill="#8487d2" stroke="#231f20" stroke-width="1.0"/>
<circle cx="346.00" cy="281.30" r="2.7" fill="#8487d2" stroke="#231f20" stroke-width="1.0"/>
<circle cx="347.00" cy="284.00" r="2.7" fill="#8487d2" stroke="#231f20" stroke-width="1.0"/>
<circle cx="346.00" cy="287.10" r="2.7" fill="#8487d2" stroke="#231f20" stroke-width="1.0"/>
<line x1="341.7" y1="278.8" x2="350.3" y2="278.8" stroke="#231f20" stroke-width="2.1"/>
<line x1="346.0" y1="274.8" x2="346.0" y2="282.8" stroke="#231f20" stroke-width="1.8900000000000001"/>
<line x1="343.5" y1="274.8" x2="348.5" y2="274.8" stroke="#231f20" stroke-width="1.8900000000000001"/>
<line x1="343.5" y1="282.8" x2="348.5" y2="282.8" stroke="#231f20" stroke-width="1.8900000000000001"/>
<circle cx="365.35" cy="312.70" r="2.7" fill="#ffffff" stroke="#231f20" stroke-width="1.0"/>
<circle cx="364.35" cy="315.00" r="2.7" fill="#ffffff" stroke="#231f20" stroke-width="1.0"/>
<circle cx="366.35" cy="318.00" r="2.7" fill="#ffffff" stroke="#231f20" stroke-width="1.0"/>
<circle cx="364.35" cy="321.00" r="2.7" fill="#ffffff" stroke="#231f20" stroke-width="1.0"/>
<circle cx="365.35" cy="324.50" r="2.7" fill="#ffffff" stroke="#231f20" stroke-width="1.0"/>
<line x1="361.05" y1="318.0" x2="369.65000000000003" y2="318.0" stroke="#231f20" stroke-width="2.1"/>
<line x1="365.35" y1="316.2" x2="365.35" y2="319.8" stroke="#231f20" stroke-width="1.8900000000000001"/>
<line x1="362.85" y1="316.2" x2="367.85" y2="316.2" stroke="#231f20" stroke-width="1.8900000000000001"/>
<line x1="362.85" y1="319.8" x2="367.85" y2="319.8" stroke="#231f20" stroke-width="1.8900000000000001"/>
<circle cx="377.35" cy="313.00" r="2.7" fill="#8487d2" stroke="#231f20" stroke-width="1.0"/>
<circle cx="376.35" cy="316.00" r="2.7" fill="#8487d2" stroke="#231f20" stroke-width="1.0"/>
<circle cx="378.35" cy="319.00" r="2.7" fill="#8487d2" stroke="#231f20" stroke-width="1.0"/>
<circle cx="376.35" cy="322.00" r="2.7" fill="#8487d2" stroke="#231f20" stroke-width="1.0"/>
<circle cx="377.35" cy="324.00" r="2.7" fill="#8487d2" stroke="#231f20" stroke-width="1.0"/>
<line x1="373.05" y1="318.5" x2="381.65000000000003" y2="318.5" stroke="#231f20" stroke-width="2.1"/>
<line x1="377.35" y1="316.7" x2="377.35" y2="320.3" stroke="#231f20" stroke-width="1.8900000000000001"/>
<line x1="374.85" y1="316.7" x2="379.85" y2="316.7" stroke="#231f20" stroke-width="1.8900000000000001"/>
<line x1="374.85" y1="320.3" x2="379.85" y2="320.3" stroke="#231f20" stroke-width="1.8900000000000001"/>
<circle cx="396.70" cy="310.00" r="2.7" fill="#ffffff" stroke="#231f20" stroke-width="1.0"/>
<circle cx="395.70" cy="313.00" r="2.7" fill="#ffffff" stroke="#231f20" stroke-width="1.0"/>
<circle cx="397.70" cy="316.00" r="2.7" fill="#ffffff" stroke="#231f20" stroke-width="1.0"/>
<circle cx="395.70" cy="319.00" r="2.7" fill="#ffffff" stroke="#231f20" stroke-width="1.0"/>
<circle cx="396.70" cy="323.00" r="2.7" fill="#ffffff" stroke="#231f20" stroke-width="1.0"/>
<line x1="392.4" y1="317.0" x2="401.0" y2="317.0" stroke="#231f20" stroke-width="2.1"/>
<line x1="396.7" y1="315.2" x2="396.7" y2="318.8" stroke="#231f20" stroke-width="1.8900000000000001"/>
<line x1="394.2" y1="315.2" x2="399.2" y2="315.2" stroke="#231f20" stroke-width="1.8900000000000001"/>
<line x1="394.2" y1="318.8" x2="399.2" y2="318.8" stroke="#231f20" stroke-width="1.8900000000000001"/>
<circle cx="408.70" cy="313.00" r="2.7" fill="#8487d2" stroke="#231f20" stroke-width="1.0"/>
<circle cx="409.70" cy="316.00" r="2.7" fill="#8487d2" stroke="#231f20" stroke-width="1.0"/>
<circle cx="407.70" cy="319.00" r="2.7" fill="#8487d2" stroke="#231f20" stroke-width="1.0"/>
<circle cx="409.70" cy="322.00" r="2.7" fill="#8487d2" stroke="#231f20" stroke-width="1.0"/>
<circle cx="408.70" cy="325.00" r="2.7" fill="#8487d2" stroke="#231f20" stroke-width="1.0"/>
<line x1="404.4" y1="319.0" x2="413.0" y2="319.0" stroke="#231f20" stroke-width="2.1"/>
<line x1="408.7" y1="317.2" x2="408.7" y2="320.8" stroke="#231f20" stroke-width="1.8900000000000001"/>
<line x1="406.2" y1="317.2" x2="411.2" y2="317.2" stroke="#231f20" stroke-width="1.8900000000000001"/>
<line x1="406.2" y1="320.8" x2="411.2" y2="320.8" stroke="#231f20" stroke-width="1.8900000000000001"/>
<circle cx="428.05" cy="311.00" r="2.7" fill="#ffffff" stroke="#231f20" stroke-width="1.0"/>
<circle cx="427.05" cy="314.00" r="2.7" fill="#ffffff" stroke="#231f20" stroke-width="1.0"/>
<circle cx="429.05" cy="317.00" r="2.7" fill="#ffffff" stroke="#231f20" stroke-width="1.0"/>
<circle cx="427.05" cy="320.00" r="2.7" fill="#ffffff" stroke="#231f20" stroke-width="1.0"/>
<circle cx="428.05" cy="324.00" r="2.7" fill="#ffffff" stroke="#231f20" stroke-width="1.0"/>
<line x1="423.75" y1="318.4" x2="432.35" y2="318.4" stroke="#231f20" stroke-width="2.1"/>
<line x1="428.05" y1="316.79999999999995" x2="428.05" y2="320.0" stroke="#231f20" stroke-width="1.8900000000000001"/>
<line x1="425.55" y1="316.79999999999995" x2="430.55" y2="316.79999999999995" stroke="#231f20" stroke-width="1.8900000000000001"/>
<line x1="425.55" y1="320.0" x2="430.55" y2="320.0" stroke="#231f20" stroke-width="1.8900000000000001"/>
<circle cx="440.05" cy="277.20" r="2.7" fill="#8487d2" stroke="#231f20" stroke-width="1.0"/>
<circle cx="440.05" cy="280.80" r="2.7" fill="#8487d2" stroke="#231f20" stroke-width="1.0"/>
<circle cx="440.05" cy="287.90" r="2.7" fill="#8487d2" stroke="#231f20" stroke-width="1.0"/>
<circle cx="440.05" cy="291.50" r="2.7" fill="#8487d2" stroke="#231f20" stroke-width="1.0"/>
<circle cx="440.05" cy="297.80" r="2.7" fill="#8487d2" stroke="#231f20" stroke-width="1.0"/>
<circle cx="439.05" cy="289.00" r="2.7" fill="#8487d2" stroke="#231f20" stroke-width="1.0"/>
<line x1="435.75" y1="289.7" x2="444.35" y2="289.7" stroke="#231f20" stroke-width="2.1"/>
<line x1="440.05" y1="286.2" x2="440.05" y2="293.2" stroke="#231f20" stroke-width="1.8900000000000001"/>
<line x1="437.55" y1="286.2" x2="442.55" y2="286.2" stroke="#231f20" stroke-width="1.8900000000000001"/>
<line x1="437.55" y1="293.2" x2="442.55" y2="293.2" stroke="#231f20" stroke-width="1.8900000000000001"/>
<circle cx="459.40" cy="311.00" r="2.7" fill="#ffffff" stroke="#231f20" stroke-width="1.0"/>
<circle cx="458.40" cy="314.00" r="2.7" fill="#ffffff" stroke="#231f20" stroke-width="1.0"/>
<circle cx="460.40" cy="317.00" r="2.7" fill="#ffffff" stroke="#231f20" stroke-width="1.0"/>
<circle cx="458.40" cy="320.00" r="2.7" fill="#ffffff" stroke="#231f20" stroke-width="1.0"/>
<circle cx="459.40" cy="324.00" r="2.7" fill="#ffffff" stroke="#231f20" stroke-width="1.0"/>
<line x1="455.09999999999997" y1="318.4" x2="463.7" y2="318.4" stroke="#231f20" stroke-width="2.1"/>
<line x1="459.4" y1="316.79999999999995" x2="459.4" y2="320.0" stroke="#231f20" stroke-width="1.8900000000000001"/>
<line x1="456.9" y1="316.79999999999995" x2="461.9" y2="316.79999999999995" stroke="#231f20" stroke-width="1.8900000000000001"/>
<line x1="456.9" y1="320.0" x2="461.9" y2="320.0" stroke="#231f20" stroke-width="1.8900000000000001"/>
<circle cx="471.40" cy="287.90" r="2.7" fill="#8487d2" stroke="#231f20" stroke-width="1.0"/>
<circle cx="471.40" cy="296.90" r="2.7" fill="#8487d2" stroke="#231f20" stroke-width="1.0"/>
<circle cx="471.40" cy="311.20" r="2.7" fill="#8487d2" stroke="#231f20" stroke-width="1.0"/>
<circle cx="472.40" cy="315.70" r="2.7" fill="#8487d2" stroke="#231f20" stroke-width="1.0"/>
<circle cx="470.40" cy="317.50" r="2.7" fill="#8487d2" stroke="#231f20" stroke-width="1.0"/>
<line x1="467.09999999999997" y1="304.9" x2="475.7" y2="304.9" stroke="#231f20" stroke-width="2.1"/>
<line x1="471.4" y1="298.4" x2="471.4" y2="311.4" stroke="#231f20" stroke-width="1.8900000000000001"/>
<line x1="468.9" y1="298.4" x2="473.9" y2="298.4" stroke="#231f20" stroke-width="1.8900000000000001"/>
<line x1="468.9" y1="311.4" x2="473.9" y2="311.4" stroke="#231f20" stroke-width="1.8900000000000001"/>
<circle cx="490.75" cy="316.00" r="2.7" fill="#ffffff" stroke="#231f20" stroke-width="1.0"/>
<circle cx="489.75" cy="319.00" r="2.7" fill="#ffffff" stroke="#231f20" stroke-width="1.0"/>
<circle cx="491.75" cy="322.00" r="2.7" fill="#ffffff" stroke="#231f20" stroke-width="1.0"/>
<circle cx="490.75" cy="325.00" r="2.7" fill="#ffffff" stroke="#231f20" stroke-width="1.0"/>
<line x1="486.45" y1="321.0" x2="495.05" y2="321.0" stroke="#231f20" stroke-width="2.1"/>
<line x1="490.75" y1="319.5" x2="490.75" y2="322.5" stroke="#231f20" stroke-width="1.8900000000000001"/>
<line x1="488.25" y1="319.5" x2="493.25" y2="319.5" stroke="#231f20" stroke-width="1.8900000000000001"/>
<line x1="488.25" y1="322.5" x2="493.25" y2="322.5" stroke="#231f20" stroke-width="1.8900000000000001"/>
<circle cx="502.75" cy="311.00" r="2.7" fill="#8487d2" stroke="#231f20" stroke-width="1.0"/>
<circle cx="503.75" cy="314.00" r="2.7" fill="#8487d2" stroke="#231f20" stroke-width="1.0"/>
<circle cx="501.75" cy="317.00" r="2.7" fill="#8487d2" stroke="#231f20" stroke-width="1.0"/>
<circle cx="503.75" cy="320.00" r="2.7" fill="#8487d2" stroke="#231f20" stroke-width="1.0"/>
<circle cx="502.75" cy="323.00" r="2.7" fill="#8487d2" stroke="#231f20" stroke-width="1.0"/>
<line x1="498.45" y1="319.0" x2="507.05" y2="319.0" stroke="#231f20" stroke-width="2.1"/>
<line x1="502.75" y1="317.2" x2="502.75" y2="320.8" stroke="#231f20" stroke-width="1.8900000000000001"/>
<line x1="500.25" y1="317.2" x2="505.25" y2="317.2" stroke="#231f20" stroke-width="1.8900000000000001"/>
<line x1="500.25" y1="320.8" x2="505.25" y2="320.8" stroke="#231f20" stroke-width="1.8900000000000001"/>
<circle cx="522.10" cy="312.00" r="2.7" fill="#ffffff" stroke="#231f20" stroke-width="1.0"/>
<circle cx="521.10" cy="315.00" r="2.7" fill="#ffffff" stroke="#231f20" stroke-width="1.0"/>
<circle cx="523.10" cy="318.00" r="2.7" fill="#ffffff" stroke="#231f20" stroke-width="1.0"/>
<circle cx="521.10" cy="321.00" r="2.7" fill="#ffffff" stroke="#231f20" stroke-width="1.0"/>
<circle cx="522.10" cy="325.00" r="2.7" fill="#ffffff" stroke="#231f20" stroke-width="1.0"/>
<line x1="517.8000000000001" y1="317.2" x2="526.4" y2="317.2" stroke="#231f20" stroke-width="2.1"/>
<line x1="522.1" y1="315.7" x2="522.1" y2="318.7" stroke="#231f20" stroke-width="1.8900000000000001"/>
<line x1="519.6" y1="315.7" x2="524.6" y2="315.7" stroke="#231f20" stroke-width="1.8900000000000001"/>
<line x1="519.6" y1="318.7" x2="524.6" y2="318.7" stroke="#231f20" stroke-width="1.8900000000000001"/>
<circle cx="534.10" cy="311.00" r="2.7" fill="#8487d2" stroke="#231f20" stroke-width="1.0"/>
<circle cx="535.10" cy="314.00" r="2.7" fill="#8487d2" stroke="#231f20" stroke-width="1.0"/>
<circle cx="533.10" cy="317.00" r="2.7" fill="#8487d2" stroke="#231f20" stroke-width="1.0"/>
<circle cx="535.10" cy="320.00" r="2.7" fill="#8487d2" stroke="#231f20" stroke-width="1.0"/>
<circle cx="534.10" cy="322.00" r="2.7" fill="#8487d2" stroke="#231f20" stroke-width="1.0"/>
<line x1="529.8000000000001" y1="317.0" x2="538.4" y2="317.0" stroke="#231f20" stroke-width="2.1"/>
<line x1="534.1" y1="315.2" x2="534.1" y2="318.8" stroke="#231f20" stroke-width="1.8900000000000001"/>
<line x1="531.6" y1="315.2" x2="536.6" y2="315.2" stroke="#231f20" stroke-width="1.8900000000000001"/>
<line x1="531.6" y1="318.8" x2="536.6" y2="318.8" stroke="#231f20" stroke-width="1.8900000000000001"/>
</svg></div></body></html>
